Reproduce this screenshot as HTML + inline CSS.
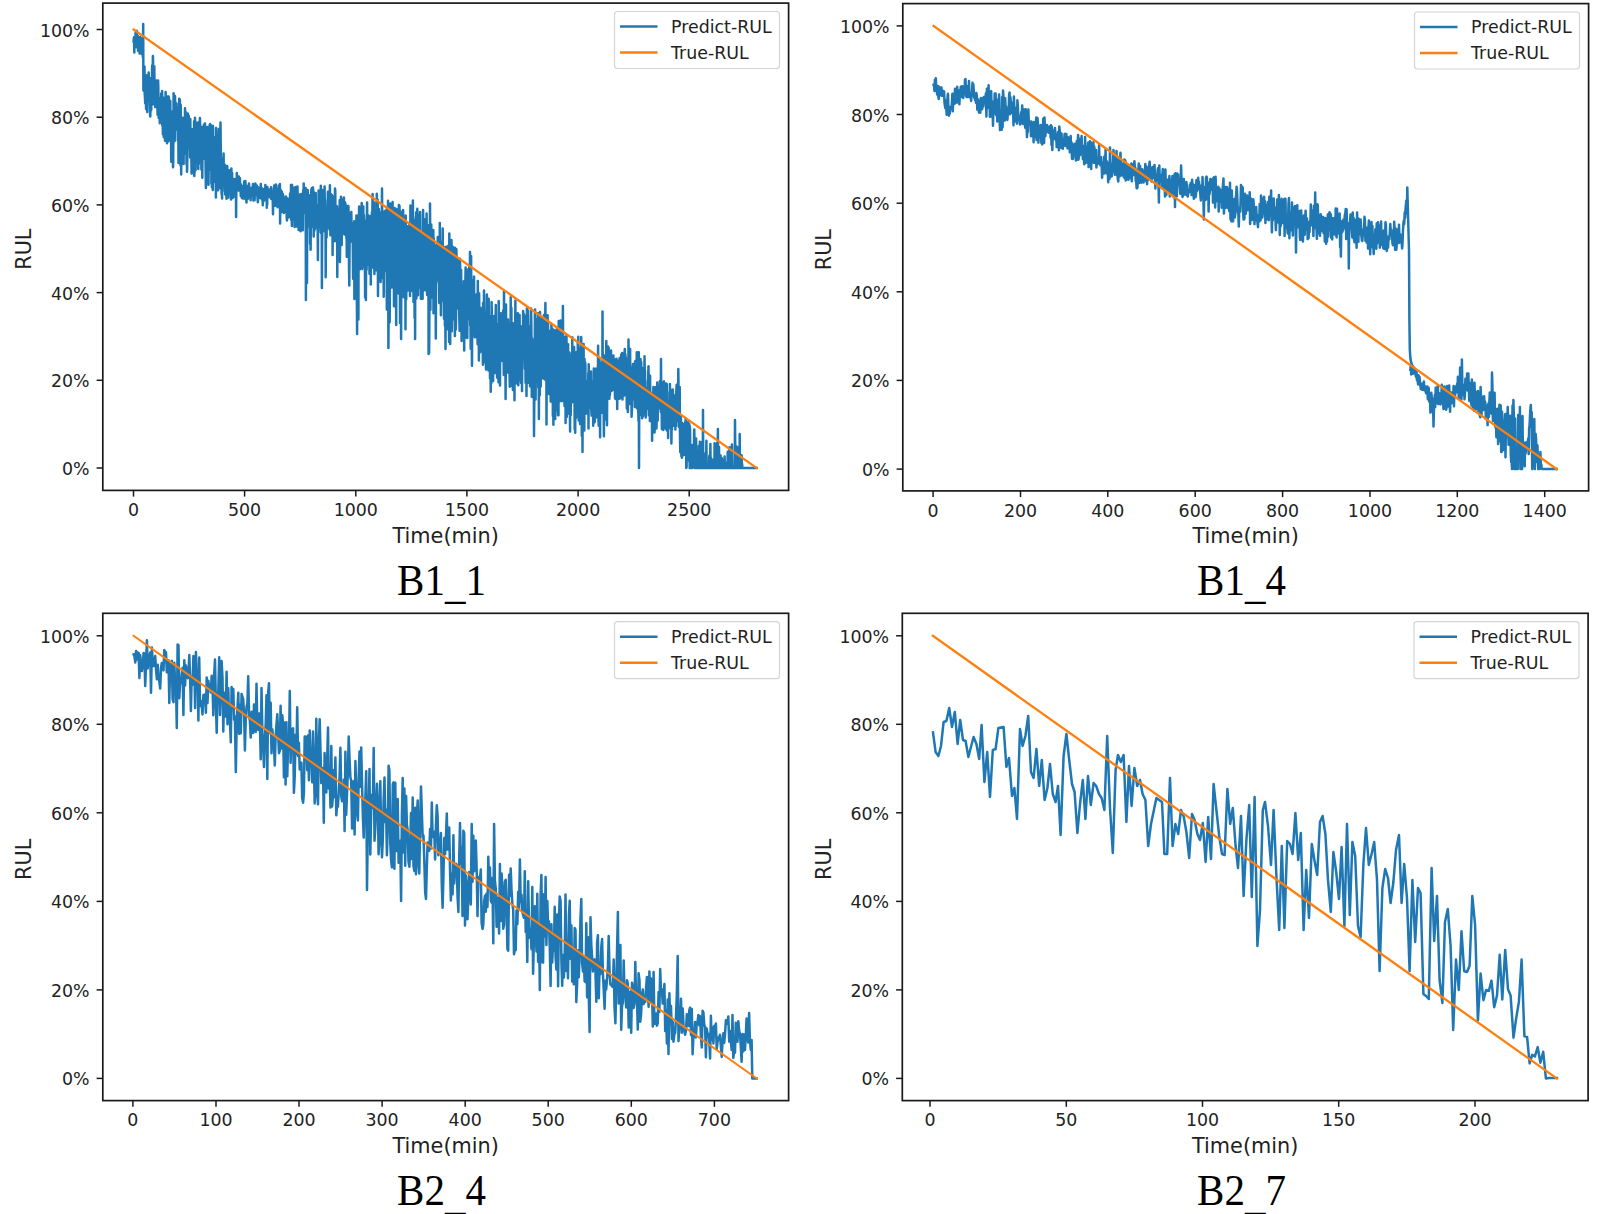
<!DOCTYPE html>
<html><head><meta charset="utf-8"><title>RUL prediction</title>
<style>
html,body{margin:0;padding:0;background:#fff;}
body{width:1600px;height:1214px;overflow:hidden;}
svg{display:block}
.tk{font-family:"DejaVu Sans","Liberation Sans",sans-serif;font-size:17.4px;fill:#222}
.lb{font-family:"DejaVu Sans","Liberation Sans",sans-serif;font-size:20.8px;fill:#222}
.lg{font-family:"DejaVu Sans","Liberation Sans",sans-serif;font-size:17.4px;fill:#222}
.tt{font-family:"Liberation Serif","Times New Roman",serif;font-size:41px;fill:#000}
</style></head><body>
<svg width="1600" height="1214" viewBox="0 0 1600 1214">
<rect width="1600" height="1214" fill="#fff"/>
<g transform="translate(0,0)">
<path d="M133.6 41.6L133.8 38.9L134 37.3L134.3 52.4L134.5 41.2L134.7 38.7L134.9 36.9L135.2 43.9L135.4 44.8L135.6 32.6L135.8 34.1L136 37.5L136.3 47.1L136.5 46L136.7 30.7L136.9 32.2L137.2 47.6L137.4 35.9L137.6 41.3L137.8 35.9L138 50.7L138.3 39L138.5 47.7L138.7 50.8L138.9 47L139.2 42.3L139.4 47.9L139.6 53.4L139.8 40.2L140 36.9L140.3 40.1L140.5 37.7L140.7 40.2L140.9 38.6L141.2 42.6L141.4 42.4L141.6 44.5L141.8 54L142 41.2L142.3 53.2L142.5 39.9L142.7 38.4L142.9 57.2L143.2 24L143.4 90.4L143.6 66.7L143.8 85.1L144.1 84.4L144.3 89.6L144.5 66.6L144.7 93.9L144.9 96.3L145.2 103.3L145.4 95.5L145.6 94.1L145.8 90.5L146.1 109.1L146.3 75.2L146.5 87L146.7 96L146.9 85.8L147.2 112L147.4 76.7L147.6 89L147.8 76.4L148.1 76.4L148.3 81.7L148.5 75.9L148.7 72.5L148.9 83.8L149.2 100.3L149.4 99.5L149.6 102.1L149.8 98.4L150.1 115.6L150.3 116.6L150.5 102.9L150.7 79.7L150.9 77.9L151.2 110.2L151.4 99.7L151.6 105.5L151.8 100.2L152.1 66.6L152.3 65.3L152.5 71.5L152.7 74.8L152.9 56L153.2 67.7L153.4 79.7L153.6 72.8L153.8 104.3L154.1 102.5L154.3 66.2L154.5 84L154.7 88L154.9 98.1L155.2 107.1L155.4 103.4L155.6 93.6L155.8 101L156.1 89.6L156.3 84.3L156.5 80.6L156.7 102.9L156.9 92.3L157.2 92.4L157.4 107.8L157.6 114.7L157.8 96.8L158.1 80.5L158.3 86.5L158.5 104.6L158.7 118L158.9 100.1L159.2 116.4L159.4 116.9L159.6 107.3L159.8 123.2L160.1 114.7L160.3 98.1L160.5 119.1L160.7 119.8L160.9 108.9L161.2 93.5L161.4 117L161.6 108.2L161.8 114.4L162.1 91.1L162.3 125.4L162.5 108.1L162.7 121.2L162.9 134.3L163.2 97.4L163.4 113L163.6 99L163.8 137.3L164.1 118.3L164.3 109.2L164.5 116.3L164.7 115.8L165 140.7L165.2 127.8L165.4 123.6L165.6 92.1L165.8 105.1L166.1 132.6L166.3 127.2L166.5 110.5L166.7 133.2L167 143.2L167.2 107L167.4 110.4L167.6 102.8L167.8 96.4L168.1 141.5L168.3 135.1L168.5 131.4L168.7 96.5L169 99.6L169.2 122.6L169.4 114.7L169.6 127.5L169.8 108.3L170.1 140.6L170.3 101.1L170.5 136L170.7 129L171 127.5L171.2 161.7L171.4 117.2L171.6 148.4L171.8 117.5L172.1 115L172.3 111.5L172.5 143.9L172.7 133.9L173 167.3L173.2 164.4L173.4 131.3L173.6 93.3L173.8 108.3L174.1 125.3L174.3 133.4L174.5 126.3L174.7 140.9L175 95.9L175.2 128.7L175.4 117.7L175.6 102.6L175.8 112.8L176.1 129L176.3 121.9L176.5 103.5L176.7 120.6L177 129.8L177.2 121.5L177.4 129L177.6 127.4L177.8 140.5L178.1 107.4L178.3 127.7L178.5 163.1L178.7 123.1L179 161.4L179.2 98.7L179.4 110.1L179.6 101L179.8 99.6L180.1 105.4L180.3 138.1L180.5 165.4L180.7 105.1L181 134.4L181.2 174.4L181.4 132.9L181.6 126L181.8 143.5L182.1 131.5L182.3 152.6L182.5 145.4L182.7 125.9L183 117.8L183.2 143.3L183.4 144.4L183.6 163.9L183.8 132.9L184.1 144.6L184.3 153.6L184.5 127.9L184.7 152.6L185 108.3L185.2 153.4L185.4 150.5L185.6 111.7L185.9 119.9L186.1 132.3L186.3 120.4L186.5 164.3L186.7 142.1L187 171.7L187.2 168.2L187.4 139.5L187.6 133.1L187.9 113.6L188.1 117.4L188.3 117.6L188.5 147.7L188.7 115.7L189 140.9L189.2 144L189.4 126.1L189.6 134.4L189.9 144.4L190.1 157.5L190.3 119.1L190.5 134.7L190.7 130.2L191 132.8L191.2 147.6L191.4 158.4L191.6 173.6L191.9 163L192.1 129.2L192.3 136L192.5 142.1L192.7 168.1L193 138.9L193.2 158.4L193.4 172.2L193.6 172.2L193.9 153.5L194.1 121.2L194.3 175.9L194.5 171.7L194.7 154.3L195 117.8L195.2 129.3L195.4 130.9L195.6 170.2L195.9 149.6L196.1 122.4L196.3 135.5L196.5 162.8L196.7 141L197 158L197.2 155L197.4 145.1L197.6 145.8L197.9 146.2L198.1 140.6L198.3 169L198.5 122.2L198.7 164.2L199 150.3L199.2 127.8L199.4 147.6L199.6 160.7L199.9 118.1L200.1 123.3L200.3 150.6L200.5 149.1L200.7 154.7L201 141.9L201.2 149.1L201.4 169.6L201.6 127L201.9 154.5L202.1 163.1L202.3 177.8L202.5 144.6L202.7 142.8L203 144.8L203.2 159.1L203.4 133.1L203.6 127.6L203.9 124.6L204.1 155.4L204.3 144.6L204.5 139.2L204.7 131.9L205 123.4L205.2 155.4L205.4 130.1L205.6 165.6L205.9 188L206.1 174.4L206.3 160.5L206.5 170.9L206.8 146.9L207 135.4L207.2 127L207.4 134.7L207.6 143.1L207.9 131.3L208.1 130.7L208.3 151L208.5 184.7L208.8 147.4L209 159.2L209.2 127.9L209.4 169.4L209.6 125.1L209.9 166.1L210.1 124.1L210.3 141.7L210.5 136.2L210.8 162.2L211 152.4L211.2 125.2L211.4 183.8L211.6 158.4L211.9 187.3L212.1 164.8L212.3 130.9L212.5 146.6L212.8 190L213 125.9L213.2 147.4L213.4 172.4L213.6 182.2L213.9 178L214.1 181.2L214.3 180.6L214.5 155.3L214.8 159.6L215 159.4L215.2 154.2L215.4 137.1L215.6 152.2L215.9 197.4L216.1 128.1L216.3 144.8L216.5 172.9L216.8 168.4L217 177.7L217.2 157.9L217.4 143.7L217.6 165.1L217.9 172.9L218.1 190.2L218.3 185.5L218.5 141.5L218.8 129L219 155.2L219.2 136.2L219.4 188.1L219.6 152.7L219.9 153.7L220.1 141.2L220.3 136.9L220.5 122.6L220.8 152.8L221 177.2L221.2 160.8L221.4 177.1L221.6 194.5L221.9 158.6L222.1 198.4L222.3 176.9L222.5 191.5L222.8 180.7L223 170.2L223.2 158.1L223.4 177L223.6 153.4L223.9 185L224.1 175.4L224.3 184.4L224.5 168.1L224.8 165L225 164.8L225.2 194.6L225.4 177.1L225.6 178.1L225.9 166L226.1 181.8L226.3 177.5L226.5 198.7L226.8 179.8L227 183L227.2 166.1L227.4 170L227.7 189.9L227.9 180.5L228.1 187.9L228.3 197.6L228.5 190.7L228.8 191.7L229 171.9L229.2 170.3L229.4 173L229.7 178.9L229.9 189.7L230.1 175.1L230.3 176.8L230.5 189.3L230.8 179.9L231 199.4L231.2 190.7L231.4 168.4L231.7 186.5L231.9 180.8L232.1 173.1L232.3 192.3L232.5 195.7L232.8 198.1L233 179.7L233.2 184L233.4 186.6L233.7 184.8L233.9 195.1L234.1 179.1L234.3 188.2L234.5 196.6L234.8 192.3L235 188.9L235.2 184.4L235.4 195.5L235.7 178.9L235.9 181.9L236.1 217L236.3 188.8L236.5 190.9L236.8 173L237 178.3L237.2 181L237.4 183.6L237.7 186.2L237.9 188.2L238.1 190.5L238.3 190.1L238.5 185.6L238.8 176.5L239 182.4L239.2 186.6L239.4 190.6L239.7 185.7L239.9 178.1L240.1 188.6L240.3 189.3L240.5 184L240.8 196.1L241 184.6L241.2 187.9L241.4 195.8L241.7 191L241.9 198L242.1 187.7L242.3 186.2L242.5 193L242.8 191.2L243 198.5L243.2 192.7L243.4 189.5L243.7 193.1L243.9 194.6L244.1 181.6L244.3 188.8L244.5 187.5L244.8 198.6L245 186.5L245.2 197.7L245.4 181.1L245.7 189.7L245.9 197.7L246.1 188.4L246.3 198.3L246.5 202.5L246.8 190.5L247 191.5L247.2 189.6L247.4 186L247.7 195.1L247.9 198.8L248.1 197L248.3 192.6L248.6 197.3L248.8 189.1L249 183.4L249.2 187.4L249.4 187.8L249.7 194.8L249.9 189L250.1 193.7L250.3 194.2L250.6 200.3L250.8 188.7L251 188.5L251.2 195.6L251.4 195.6L251.7 187.5L251.9 189.5L252.1 190.6L252.3 192.1L252.6 187.6L252.8 187.1L253 184L253.2 188.9L253.4 200.4L253.7 185.2L253.9 197.7L254.1 187L254.3 192.8L254.6 200.2L254.8 190.6L255 193.5L255.2 191.3L255.4 183.6L255.7 193.9L255.9 189.9L256.1 187.8L256.3 194.9L256.6 185.2L256.8 185.9L257 194.8L257.2 190.6L257.4 195.6L257.7 200.3L257.9 202.3L258.1 187.3L258.3 192.2L258.6 197L258.8 189.8L259 188.8L259.2 194.9L259.4 198.1L259.7 188.2L259.9 190.1L260.1 192.4L260.3 197.2L260.6 187.8L260.8 183.9L261 190.5L261.2 193.4L261.4 195.9L261.7 199.4L261.9 188.3L262.1 198.9L262.3 188.9L262.6 195.7L262.8 205.3L263 196.9L263.2 195.5L263.4 194.4L263.7 201L263.9 188.9L264.1 193.5L264.3 200.3L264.6 189L264.8 190.3L265 187.7L265.2 186.5L265.4 184.9L265.7 196L265.9 196.8L266.1 197.9L266.3 193.5L266.6 191L266.8 207.8L267 192.7L267.2 205L267.4 187.1L267.7 194.2L267.9 196.2L268.1 191.5L268.3 191.5L268.6 196.9L268.8 196.9L269 192.4L269.2 193.1L269.5 189.4L269.7 197L269.9 192.4L270.1 189.3L270.3 191.2L270.6 197.7L270.8 195.5L271 187.3L271.2 198.9L271.5 198.1L271.7 198.3L271.9 193.2L272.1 191.6L272.3 198.6L272.6 192.3L272.8 201.7L273 214.3L273.2 198.2L273.5 200.3L273.7 188.4L273.9 199.6L274.1 185.5L274.3 196.5L274.6 204.2L274.8 190.9L275 205.1L275.2 205.8L275.5 188.3L275.7 199.9L275.9 184.6L276.1 196.1L276.3 190.2L276.6 200.8L276.8 192.9L277 203.4L277.2 189.4L277.5 207.2L277.7 196L277.9 200.8L278.1 188.5L278.3 192L278.6 205.9L278.8 185.5L279 193.6L279.2 193.8L279.5 188.6L279.7 198.8L279.9 183.9L280.1 223.6L280.3 206.2L280.6 189.8L280.8 205L281 204.5L281.2 201.7L281.5 202.9L281.7 199.4L281.9 191.8L282.1 194.4L282.3 212.1L282.6 202.8L282.8 193.9L283 204.3L283.2 195.6L283.5 206L283.7 201.7L283.9 213L284.1 204.2L284.3 212.3L284.6 200.5L284.8 209.5L285 199.2L285.2 209.2L285.5 204.2L285.7 200L285.9 196.4L286.1 198.4L286.3 208.2L286.6 210.6L286.8 218.9L287 220.6L287.2 200.2L287.5 198.5L287.7 213.3L287.9 206.6L288.1 202.9L288.3 204.9L288.6 217.4L288.8 209.7L289 209.7L289.2 216.8L289.5 198.4L289.7 211L289.9 212.8L290.1 193.4L290.4 199.5L290.6 213.7L290.8 210.2L291 185L291.2 219.9L291.5 185.1L291.7 201.4L291.9 226.1L292.1 185.1L292.4 200.3L292.6 206.3L292.8 201.7L293 189.4L293.2 196.8L293.5 219.3L293.7 207.8L293.9 196.1L294.1 214.8L294.4 187.7L294.6 227.1L294.8 205.1L295 199.4L295.2 213.5L295.5 195L295.7 187L295.9 225.6L296.1 221.3L296.4 192.9L296.6 218.6L296.8 226.5L297 215.3L297.2 215.5L297.5 186.4L297.7 205L297.9 225.2L298.1 226.3L298.4 204.5L298.6 230.1L298.8 194.4L299 222.7L299.2 226.4L299.5 200.8L299.7 217.3L299.9 214.1L300.1 207L300.4 194.2L300.6 231.2L300.8 219.7L301 228.2L301.2 228L301.5 201.7L301.7 215.3L301.9 208.6L302.1 193.7L302.4 215.7L302.6 198.6L302.8 230.3L303 211.8L303.2 190.2L303.5 198L303.7 183.6L303.9 191L304.1 195.1L304.4 195.9L304.6 188.6L304.8 211.8L305 194.2L305.2 213.2L305.5 207.6L305.7 187.9L305.9 300L306.1 227.3L306.4 193.7L306.6 193.5L306.8 193.9L307 283L307.2 202.2L307.5 222.7L307.7 190.1L307.9 204.9L308.1 204.1L308.4 215.3L308.6 223.3L308.8 218.3L309 220.2L309.2 195.2L309.5 200.6L309.7 227.7L309.9 218.9L310.1 244.1L310.4 216.9L310.6 249.8L310.8 226.7L311 211.8L311.3 189.5L311.5 207.5L311.7 194.8L311.9 188.1L312.1 222.1L312.4 188.6L312.6 226.7L312.8 198.6L313 187.4L313.3 194.2L313.5 191.3L313.7 236.4L313.9 205.6L314.1 231.7L314.4 222.9L314.6 194.3L314.8 205.7L315 229.2L315.3 219.2L315.5 204.2L315.7 193L315.9 221.5L316.1 227.1L316.4 204.7L316.6 221.3L316.8 208L317 217.9L317.3 208.7L317.5 214.5L317.7 229.3L317.9 259.9L318.1 219.5L318.4 231.9L318.6 190.5L318.8 206.9L319 226.8L319.3 224.9L319.5 210.3L319.7 209.4L319.9 203.2L320.1 210.2L320.4 216.7L320.6 195.3L320.8 185.8L321 233.1L321.3 227.9L321.5 204.2L321.7 210.3L321.9 288L322.1 240.3L322.4 226.1L322.6 199.3L322.8 190L323 200.7L323.3 210.5L323.5 222.2L323.7 218L323.9 215.1L324.1 231.1L324.4 228.4L324.6 186.4L324.8 208.4L325 200L325.3 217.9L325.5 212.2L325.7 277.2L325.9 237.5L326.1 219L326.4 221.9L326.6 237.6L326.8 216.3L327 223.6L327.3 214.3L327.5 217.1L327.7 203.1L327.9 191.7L328.1 200.7L328.4 217.6L328.6 214.6L328.8 227.6L329 211.8L329.3 221.3L329.5 229.4L329.7 196.6L329.9 185.2L330.1 207L330.4 235.2L330.6 221.5L330.8 194.1L331 225.2L331.3 208.6L331.5 202L331.7 199.9L331.9 222.2L332.2 195.3L332.4 197.8L332.6 255.1L332.8 211.8L333 215.1L333.3 242.1L333.5 205.1L333.7 213.3L333.9 223.8L334.2 197.3L334.4 205.2L334.6 235.5L334.8 219.1L335 188.4L335.3 191.2L335.5 240.9L335.7 225.1L335.9 205.9L336.2 219L336.4 230.5L336.6 218.4L336.8 223L337 206.2L337.3 277.1L337.5 212L337.7 231.4L337.9 211.5L338.2 209.2L338.4 236.3L338.6 221.8L338.8 239L339 225.8L339.3 233.9L339.5 237.4L339.7 200.2L339.9 262L340.2 237.1L340.4 209.1L340.6 233.1L340.8 207.2L341 196.7L341.3 228.3L341.5 226.2L341.7 244.9L341.9 201.5L342.2 231.9L342.4 233.6L342.6 221.2L342.8 200.6L343 199.3L343.3 226.6L343.5 210.7L343.7 218.8L343.9 197.4L344.2 216.2L344.4 234.6L344.6 222.2L344.8 227.3L345 202.3L345.3 226.6L345.5 203.9L345.7 220.2L345.9 233.2L346.2 216.2L346.4 238.2L346.6 226.1L346.8 256.7L347 235.5L347.3 232.8L347.5 206.1L347.7 235.5L347.9 248.5L348.2 235.8L348.4 206L348.6 215.3L348.8 223.1L349 266.9L349.3 285.5L349.5 253.3L349.7 228.6L349.9 234.1L350.2 222.2L350.4 231.9L350.6 241.5L350.8 212.7L351 223L351.3 212L351.5 223.6L351.7 223.8L351.9 223.1L352.2 227.4L352.4 223.1L352.6 230.2L352.8 244.6L353.1 278.8L353.3 230.2L353.5 260.6L353.7 254.4L353.9 238.7L354.2 221.3L354.4 299.1L354.6 252.2L354.8 221.5L355.1 261.6L355.3 238.6L355.5 223.6L355.7 270.7L355.9 223.8L356.2 283.5L356.4 215.4L356.6 261.9L356.8 286.8L357.1 334L357.3 219.3L357.5 272.3L357.7 215.8L357.9 286.6L358.2 278.2L358.4 319.4L358.6 236L358.8 252.1L359.1 206.5L359.3 243.9L359.5 265.9L359.7 221.6L359.9 269.2L360.2 240.9L360.4 260.2L360.6 259.9L360.8 215.9L361.1 254.7L361.3 247.4L361.5 209.5L361.7 203L361.9 214.7L362.2 268.9L362.4 208.1L362.6 218.9L362.8 263.6L363.1 227.8L363.3 206.5L363.5 266.8L363.7 245.3L363.9 215.3L364.2 224.2L364.4 262.8L364.6 224.7L364.8 243L365.1 297.6L365.3 264.7L365.5 225.3L365.7 220.9L365.9 300L366.2 238.3L366.4 258L366.6 269.8L366.8 221.8L367.1 202.5L367.3 240.9L367.5 217.5L367.7 253.7L367.9 245.8L368.2 236.8L368.4 264.7L368.6 215.5L368.8 224.8L369.1 229.7L369.3 254.3L369.5 273.7L369.7 258.3L369.9 257.4L370.2 228L370.4 245.8L370.6 227.7L370.8 284.6L371.1 215.7L371.3 232.3L371.5 241.6L371.7 257.8L371.9 212.4L372.2 227.4L372.4 209.6L372.6 193.9L372.8 267.6L373.1 248.6L373.3 226.7L373.5 205L373.7 252L374 216.3L374.2 202.6L374.4 273.9L374.6 220.2L374.8 223.8L375.1 253L375.3 213.2L375.5 236.2L375.7 240.7L376 259.2L376.2 212.3L376.4 270.2L376.6 246.8L376.8 193.7L377.1 243.2L377.3 219.1L377.5 219L377.7 199.8L378 296L378.2 234.3L378.4 265.5L378.6 239.2L378.8 208.9L379.1 270.2L379.3 222.5L379.5 245.5L379.7 265.7L380 279L380.2 212.6L380.4 233.1L380.6 281.9L380.8 270.1L381.1 255.4L381.3 267.1L381.5 261.6L381.7 227.3L382 188.4L382.2 216L382.4 225L382.6 254.2L382.8 278L383.1 265.3L383.3 248.5L383.5 228L383.7 296.8L384 249.2L384.2 211.9L384.4 239.2L384.6 257.9L384.8 210.9L385.1 249.4L385.3 271.1L385.5 234L385.7 240.5L386 240.8L386.2 210.6L386.4 226.7L386.6 209.4L386.8 309.5L387.1 215.8L387.3 273.3L387.5 238.2L387.7 269.7L388 200.8L388.2 241.4L388.4 348L388.6 317.7L388.8 221.8L389.1 238.8L389.3 245.8L389.5 231L389.7 322.2L390 259.6L390.2 203.4L390.4 220.8L390.6 226.5L390.8 252.1L391.1 211.6L391.3 287.6L391.5 246.2L391.7 262.3L392 215.3L392.2 241.9L392.4 211.6L392.6 201.9L392.8 264.4L393.1 234.5L393.3 240.1L393.5 287.9L393.7 220.1L394 306.3L394.2 239.4L394.4 274.4L394.6 208L394.9 255.9L395.1 256.5L395.3 248.4L395.5 238.8L395.7 275.3L396 263.5L396.2 325.1L396.4 209L396.6 259.4L396.9 254.6L397.1 231.7L397.3 233.9L397.5 286.5L397.7 235.8L398 263.9L398.2 264.7L398.4 220.5L398.6 293.4L398.9 204.9L399.1 233L399.3 287.7L399.5 205.8L399.7 244.4L400 322.9L400.2 265.5L400.4 240.9L400.6 243.2L400.9 265.1L401.1 339L401.3 263.1L401.5 211.7L401.7 228L402 297.2L402.2 241.9L402.4 245L402.6 220.3L402.9 289.4L403.1 210.1L403.3 227.5L403.5 261.1L403.7 244.7L404 277.3L404.2 261.4L404.4 297.4L404.6 238.9L404.9 242.3L405.1 257L405.3 225L405.5 329.2L405.7 215.4L406 288.2L406.2 299.3L406.4 284.3L406.6 255.5L406.9 226L407.1 263L407.3 268.9L407.5 240.4L407.7 290.5L408 238.6L408.2 271.8L408.4 234.8L408.6 264.9L408.9 237L409.1 243.5L409.3 226.4L409.5 223.9L409.7 244.3L410 296.1L410.2 259.8L410.4 205.6L410.6 224.6L410.9 263.1L411.1 291L411.3 217.3L411.5 215.4L411.7 222.3L412 213L412.2 260.3L412.4 281.9L412.6 217.9L412.9 200.5L413.1 255.9L413.3 216.8L413.5 301.9L413.7 280.4L414 282.6L414.2 243.6L414.4 260.5L414.6 318L414.9 220.5L415.1 339L415.3 249.3L415.5 299.4L415.8 276.8L416 242.1L416.2 212.3L416.4 298.2L416.6 240.9L416.9 236.9L417.1 244L417.3 208.7L417.5 262.1L417.8 226.2L418 295.2L418.2 265.4L418.4 235L418.6 216.8L418.9 215L419.1 227.2L419.3 228.2L419.5 261.2L419.8 247.4L420 212L420.2 270.1L420.4 288.2L420.6 254.1L420.9 298.8L421.1 270.3L421.3 232.6L421.5 238.9L421.8 254.3L422 274.6L422.2 260.9L422.4 291.9L422.6 298.8L422.9 215.8L423.1 210L423.3 250.7L423.5 272.3L423.8 289.9L424 279.9L424.2 278.9L424.4 219.2L424.6 269.7L424.9 230.3L425.1 271.5L425.3 290.3L425.5 229.5L425.8 246.3L426 255.7L426.2 226.4L426.4 236.2L426.6 213.4L426.9 247.5L427.1 295L427.3 229.7L427.5 231.9L427.8 224.9L428 229L428.2 285.9L428.4 234.7L428.6 354L428.9 310.6L429.1 353L429.3 330.7L429.5 263.8L429.8 307.5L430 203.6L430.2 235L430.4 309.7L430.6 259L430.9 283.4L431.1 242.1L431.3 224.6L431.5 297.6L431.8 278.8L432 266.8L432.2 268.9L432.4 241.7L432.6 277.7L432.9 267.1L433.1 246.7L433.3 230L433.5 313.3L433.8 238.4L434 290.4L434.2 268.7L434.4 271.4L434.6 288.3L434.9 248L435.1 273.8L435.3 278.1L435.5 245.4L435.8 338.4L436 299.4L436.2 269.6L436.4 282.7L436.7 261.3L436.9 243L437.1 280.2L437.3 257.8L437.5 245.7L437.8 237L438 241.5L438.2 275.3L438.4 278.7L438.7 274.5L438.9 240.7L439.1 266.9L439.3 302.9L439.5 299.1L439.8 223.1L440 300.7L440.2 261.6L440.4 241.8L440.7 257.4L440.9 315.3L441.1 293.5L441.3 293.1L441.5 272.8L441.8 280.8L442 257L442.2 246.8L442.4 265.8L442.7 228.6L442.9 294.8L443.1 280.1L443.3 267.1L443.5 301.5L443.8 277L444 318.8L444.2 306.6L444.4 291.5L444.7 257.2L444.9 325.8L445.1 247.1L445.3 305.8L445.5 349L445.8 278.4L446 302.7L446.2 273.8L446.4 291.3L446.7 271.7L446.9 322.2L447.1 246.6L447.3 326.7L447.5 298L447.8 329.2L448 305L448.2 252.1L448.4 278.4L448.7 245.4L448.9 272.1L449.1 342L449.3 233.4L449.5 251.6L449.8 249.6L450 259.4L450.2 344L450.4 251.3L450.7 255.1L450.9 311.6L451.1 315.3L451.3 330.3L451.5 240L451.8 331.2L452 298.3L452.2 315.6L452.4 307.6L452.7 310.2L452.9 247L453.1 279.6L453.3 274.7L453.5 265.3L453.8 286L454 252.3L454.2 319.8L454.4 291.3L454.7 299.6L454.9 335.9L455.1 247.8L455.3 302L455.6 255.5L455.8 329.5L456 319.7L456.2 308.2L456.4 249.3L456.7 266.2L456.9 288.8L457.1 303.1L457.3 304.4L457.6 258.7L457.8 273.1L458 300.5L458.2 265.9L458.4 284.3L458.7 309.1L458.9 302.6L459.1 298.5L459.3 317.5L459.6 330.8L459.8 283.8L460 258.8L460.2 270.9L460.4 278L460.7 293.3L460.9 284.7L461.1 270L461.3 287.3L461.6 341.1L461.8 313.7L462 291.7L462.2 326.4L462.4 303.4L462.7 305.4L462.9 333.4L463.1 309.5L463.3 303.7L463.6 322.9L463.8 281.2L464 301.2L464.2 350.6L464.4 286.2L464.7 293.7L464.9 288.7L465.1 300.7L465.3 287L465.6 267.4L465.8 317.4L466 300.8L466.2 337.5L466.4 273L466.7 303.4L466.9 291.3L467.1 283.4L467.3 337.9L467.6 279.2L467.8 279.8L468 269.6L468.2 301.3L468.4 297.2L468.7 318.9L468.9 271.9L469.1 315.7L469.3 266.8L469.6 289.6L469.8 286.7L470 252L470.2 325.6L470.4 304.7L470.7 348.7L470.9 284.3L471.1 256L471.3 293.1L471.6 287.3L471.8 344.9L472 365.8L472.2 312.3L472.4 319.1L472.7 318.1L472.9 319.4L473.1 320.6L473.3 280L473.6 329.1L473.8 290.8L474 276.4L474.2 307.8L474.4 320.2L474.7 337.2L474.9 324.1L475.1 322L475.3 294.9L475.6 325.6L475.8 320.7L476 323.3L476.2 294.5L476.5 309.6L476.7 337.6L476.9 335.9L477.1 319.8L477.3 309.5L477.6 344.2L477.8 280.9L478 305.7L478.2 310.9L478.5 335.7L478.7 311.2L478.9 360.6L479.1 293.3L479.3 307.9L479.6 330.6L479.8 348.7L480 307.8L480.2 352.3L480.5 313.9L480.7 331L480.9 346.9L481.1 340L481.3 328.4L481.6 349.1L481.8 322.8L482 317L482.2 350.1L482.5 307.5L482.7 332.9L482.9 364.8L483.1 303.1L483.3 352L483.6 336.1L483.8 322.9L484 290.5L484.2 312L484.5 358.3L484.7 317.7L484.9 313.5L485.1 362.6L485.3 351.6L485.6 335.7L485.8 356.5L486 369.6L486.2 360.2L486.5 331.6L486.7 325.5L486.9 294.6L487.1 321.3L487.3 344.3L487.6 351.7L487.8 352.1L488 318.2L488.2 309.8L488.5 370.5L488.7 298.7L488.9 359.7L489.1 335.4L489.3 332.8L489.6 360.2L489.8 338.2L490 378.2L490.2 344.7L490.5 316.1L490.7 391.8L490.9 341.6L491.1 319.1L491.3 383.1L491.6 301.9L491.8 313L492 357.3L492.2 332.3L492.5 346.8L492.7 339.1L492.9 321.2L493.1 381.1L493.3 359.9L493.6 321.6L493.8 345.7L494 367.3L494.2 315.9L494.5 346.7L494.7 332.9L494.9 352.4L495.1 373L495.3 321.2L495.6 330.8L495.8 305L496 348.1L496.2 360.4L496.5 339.8L496.7 324L496.9 347.9L497.1 377.5L497.4 340.6L497.6 356.8L497.8 345.3L498 378.4L498.2 334L498.5 382.3L498.7 300.9L498.9 355.6L499.1 329.6L499.4 328.6L499.6 317.5L499.8 330.6L500 385.6L500.2 323.2L500.5 336.1L500.7 347.4L500.9 313.3L501.1 351.7L501.4 361L501.6 336.1L501.8 351.9L502 355.9L502.2 345.3L502.5 343.1L502.7 337.2L502.9 325.3L503.1 310.5L503.4 342.4L503.6 348.7L503.8 375.1L504 291L504.2 321L504.5 311.3L504.7 346.9L504.9 362.7L505.1 311.9L505.4 355.2L505.6 399.1L505.8 365.8L506 304.4L506.2 345.6L506.5 331L506.7 355.8L506.9 352.6L507.1 349.7L507.4 328.4L507.6 372.5L507.8 363.1L508 319.6L508.2 369L508.5 324.1L508.7 347.8L508.9 341.9L509.1 342.1L509.4 371L509.6 374.8L509.8 386.8L510 339.6L510.2 386L510.5 364L510.7 297.3L510.9 357.6L511.1 335.7L511.4 307.7L511.6 385.7L511.8 382.8L512 359L512.2 371L512.5 351.8L512.7 338L512.9 389.9L513.1 323.2L513.4 373.3L513.6 383.7L513.8 354.8L514 351.1L514.2 363.5L514.5 400.2L514.7 325.3L514.9 337.1L515.1 331.4L515.4 300.6L515.6 379.9L515.8 333.5L516 356.1L516.2 372.8L516.5 381.7L516.7 318.4L516.9 383.6L517.1 378.5L517.4 369.5L517.6 319.2L517.8 313.2L518 370.2L518.3 385.2L518.5 339.3L518.7 340.1L518.9 380L519.1 345.8L519.4 342.9L519.6 314.9L519.8 377.3L520 370L520.3 371.3L520.5 326.1L520.7 337L520.9 379.6L521.1 382.9L521.4 346.6L521.6 339.8L521.8 331.4L522 391L522.3 343L522.5 330.1L522.7 327.7L522.9 346.2L523.1 310.9L523.4 318.8L523.6 333.5L523.8 336.7L524 314.2L524.3 332.6L524.5 343.2L524.7 357.9L524.9 368.8L525.1 315.7L525.4 363.1L525.6 382.8L525.8 347.9L526 335.6L526.3 359.6L526.5 395.9L526.7 365.4L526.9 308.4L527.1 373.3L527.4 339.4L527.6 361.3L527.8 382.8L528 310.4L528.3 330.3L528.5 325.3L528.7 347.1L528.9 356.1L529.1 374.9L529.4 358.3L529.6 346.2L529.8 369.8L530 386.3L530.3 384.6L530.5 348.4L530.7 331.8L530.9 360.9L531.1 308.4L531.4 330.5L531.6 374.8L531.8 396.7L532 337.9L532.3 370.7L532.5 357.9L532.7 372.7L532.9 363.2L533.1 339.8L533.4 382L533.6 397.9L533.8 370L534 436L534.3 398.8L534.5 358.9L534.7 388.7L534.9 316.9L535.1 309.6L535.4 364.5L535.6 399.4L535.8 371.7L536 346.9L536.3 371.9L536.5 379.3L536.7 373.6L536.9 359L537.1 321.8L537.4 318.9L537.6 340.6L537.8 354L538 313L538.3 387.4L538.5 379.5L538.7 340.5L538.9 419L539.2 340.8L539.4 367.6L539.6 367L539.8 395.2L540 312.1L540.3 339.7L540.5 332.8L540.7 386.5L540.9 371.8L541.2 371.1L541.4 343L541.6 350L541.8 340.5L542 375.2L542.3 329.9L542.5 318.3L542.7 371.2L542.9 340L543.2 378.5L543.4 358.5L543.6 361.9L543.8 362.6L544 315.1L544.3 350.5L544.5 336.9L544.7 319.3L544.9 379.4L545.2 321.4L545.4 303L545.6 352.3L545.8 364.6L546 354.9L546.3 318.4L546.5 424.5L546.7 373.2L546.9 393.1L547.2 340.6L547.4 363.7L547.6 315.2L547.8 360L548 322.7L548.3 374L548.5 392L548.7 379.6L548.9 394.1L549.2 389.7L549.4 357.3L549.6 346L549.8 394.2L550 361.6L550.3 330.8L550.5 370.7L550.7 401.4L550.9 390.1L551.2 351.5L551.4 323.8L551.6 354.9L551.8 373.3L552 373.5L552.3 328.6L552.5 398.6L552.7 384.6L552.9 416L553.2 339.1L553.4 424.8L553.6 330L553.8 370.5L554 375L554.3 355.3L554.5 388.1L554.7 330.4L554.9 347.8L555.2 419.1L555.4 354.4L555.6 395.9L555.8 410.3L556 369L556.3 348.6L556.5 394.8L556.7 366.7L556.9 327.8L557.2 335L557.4 363.1L557.6 348.4L557.8 405.3L558 415.2L558.3 400.3L558.5 415.2L558.7 321L558.9 330.3L559.2 389L559.4 389.6L559.6 385L559.8 382.3L560.1 323.2L560.3 374L560.5 320.4L560.7 400.9L560.9 349.3L561.2 357.7L561.4 365.2L561.6 327.9L561.8 360.9L562.1 322.2L562.3 400.9L562.5 349.1L562.7 328.5L562.9 306L563.2 358.5L563.4 335.9L563.6 365.8L563.8 363.1L564.1 377.9L564.3 337L564.5 406.1L564.7 381.7L564.9 355L565.2 390.1L565.4 340.7L565.6 423L565.8 364.8L566.1 376.6L566.3 369.8L566.5 335L566.7 416.9L566.9 408.7L567.2 373.1L567.4 385.6L567.6 386.3L567.8 413.6L568.1 344.2L568.3 406.5L568.5 386.4L568.7 358.4L568.9 361L569.2 352.2L569.4 414.1L569.6 353L569.8 406.2L570.1 431.5L570.3 358.7L570.5 406.7L570.7 415.3L570.9 388.5L571.2 371L571.4 400.4L571.6 355.6L571.8 392.6L572.1 383.8L572.3 337.3L572.5 402.2L572.7 399.6L572.9 350.7L573.2 363.6L573.4 381.9L573.6 358.4L573.8 381L574.1 347L574.3 360.7L574.5 374.4L574.7 429.4L574.9 364L575.2 432.8L575.4 395.7L575.6 392.5L575.8 373.2L576.1 417.7L576.3 352.3L576.5 409.7L576.7 408.1L576.9 404.8L577.2 360.5L577.4 407.2L577.6 392L577.8 342.1L578.1 367.7L578.3 336.8L578.5 389.2L578.7 420.5L578.9 406L579.2 347.7L579.4 347.8L579.6 372.5L579.8 373.8L580.1 424L580.3 369.1L580.5 412L580.7 363.4L581 409.4L581.2 337.1L581.4 363.4L581.6 380.7L581.8 435.7L582.1 394.8L582.3 355.4L582.5 452L582.7 379.6L583 377.9L583.2 369.6L583.4 422.4L583.6 344.1L583.8 394.9L584.1 408.1L584.3 430.5L584.5 359.1L584.7 414.5L585 410.3L585.2 362.5L585.4 366L585.6 403.6L585.8 396.1L586.1 389.2L586.3 385.3L586.5 413.5L586.7 381.1L587 383L587.2 391.9L587.4 382.2L587.6 411.3L587.8 383.6L588.1 390.3L588.3 373L588.5 428.5L588.7 364.2L589 392.3L589.2 377.2L589.4 377.4L589.6 394.4L589.8 406.6L590.1 386.3L590.3 387.1L590.5 394.7L590.7 407.9L591 371.6L591.2 402.7L591.4 412.2L591.6 415.6L591.8 398.5L592.1 408.5L592.3 398.6L592.5 383.1L592.7 405.4L593 381.6L593.2 425.8L593.4 419.3L593.6 400.7L593.8 368.5L594.1 385.6L594.3 410.1L594.5 390.1L594.7 422.3L595 383.6L595.2 403.5L595.4 368.7L595.6 399.4L595.8 411.3L596.1 417.4L596.3 380.7L596.5 389.9L596.7 382L597 390.6L597.2 377.2L597.4 370.7L597.6 367.5L597.8 403.2L598.1 345.7L598.3 385.1L598.5 420.3L598.7 425.6L599 365.3L599.2 401.3L599.4 359.8L599.6 361.6L599.8 400.6L600.1 437.2L600.3 362.9L600.5 373L600.7 386.9L601 365.5L601.2 380.3L601.4 398.8L601.6 400.1L601.9 368.1L602.1 380.7L602.3 412.7L602.5 311.5L602.7 353.2L603 392.6L603.2 393.7L603.4 403.7L603.6 398.3L603.9 436.2L604.1 355.5L604.3 373.3L604.5 390.7L604.7 400.8L605 404.8L605.2 391.1L605.4 398.2L605.6 419.5L605.9 385L606.1 364.6L606.3 341.1L606.5 378.9L606.7 393.4L607 425.2L607.2 391.7L607.4 355.3L607.6 366.9L607.9 374.3L608.1 346.5L608.3 396.7L608.5 357.3L608.7 347.9L609 390.9L609.2 391.7L609.4 398.8L609.6 351.4L609.9 395.3L610.1 362.8L610.3 371.6L610.5 361L610.7 381.2L611 350.6L611.2 379.5L611.4 378.5L611.6 391L611.9 363.6L612.1 389.7L612.3 358.5L612.5 357.6L612.7 373.7L613 389.8L613.2 378.8L613.4 355.6L613.6 362.5L613.9 381.5L614.1 376.9L614.3 359.3L614.5 377.3L614.7 370.7L615 398.3L615.2 389L615.4 388.8L615.6 398.9L615.9 377L616.1 376.8L616.3 370.8L616.5 358.8L616.7 392.3L617 362.4L617.2 409.1L617.4 384.6L617.6 393.4L617.9 374.1L618.1 360.8L618.3 360.7L618.5 378.4L618.7 377.2L619 364.2L619.2 377L619.4 398.8L619.6 358L619.9 368.8L620.1 369.4L620.3 371.6L620.5 391L620.7 395.8L621 397.9L621.2 354.4L621.4 395L621.6 388.7L621.9 371.3L622.1 352.9L622.3 371L622.5 399.4L622.8 368.1L623 377.2L623.2 385.9L623.4 381.5L623.6 392.2L623.9 365.1L624.1 374.1L624.3 395.4L624.5 353.6L624.8 349.1L625 390.3L625.2 391.4L625.4 354.5L625.6 368.6L625.9 365.3L626.1 387.7L626.3 382.8L626.5 358.2L626.8 408.6L627 384.2L627.2 382.4L627.4 365.6L627.6 367.5L627.9 411.9L628.1 375.2L628.3 384.3L628.5 339.5L628.8 369.9L629 373L629.2 391.5L629.4 402.6L629.6 404.1L629.9 376.2L630.1 349L630.3 380.9L630.5 381.3L630.8 379.7L631 389.6L631.2 367.3L631.4 381.3L631.6 416.7L631.9 408.6L632.1 380.1L632.3 372.5L632.5 391.6L632.8 374.6L633 364L633.2 399.5L633.4 382.3L633.6 365.7L633.9 397.1L634.1 391.8L634.3 390.5L634.5 375.3L634.8 407L635 362.1L635.2 402L635.4 361L635.6 362L635.9 388.3L636.1 407.3L636.3 383.9L636.5 390.4L636.8 352.2L637 387.9L637.2 408.5L637.4 395.2L637.6 378.4L637.9 365.2L638.1 384L638.3 412.3L638.5 421L638.8 352.3L639 468L639.2 416.2L639.4 397.4L639.6 377.2L639.9 382.3L640.1 380.1L640.3 372.7L640.5 358.9L640.8 376L641 405.5L641.2 362.2L641.4 376.1L641.6 415.3L641.9 374.9L642.1 418.3L642.3 398.5L642.5 367.9L642.8 370.7L643 416.3L643.2 382.5L643.4 373.2L643.7 414.2L643.9 376.3L644.1 368.9L644.3 397.4L644.5 356.3L644.8 378.1L645 370.4L645.2 393.3L645.4 387.8L645.7 417.4L645.9 408L646.1 392.9L646.3 406.2L646.5 388.3L646.8 400L647 408.1L647.2 405.7L647.4 407.1L647.7 408.8L647.9 380.7L648.1 403.1L648.3 372.6L648.5 366.2L648.8 415.2L649 395.9L649.2 409.7L649.4 379.8L649.7 390.9L649.9 421L650.1 375.8L650.3 419.2L650.5 396.6L650.8 394.5L651 411.5L651.2 417.1L651.4 410L651.7 398.5L651.9 406.8L652.1 440.8L652.3 421.2L652.5 408.3L652.8 392.5L653 397.1L653.2 412.6L653.4 386.9L653.7 392.8L653.9 390.3L654.1 402.1L654.3 410.2L654.5 432.6L654.8 427.9L655 416.1L655.2 411.4L655.4 387.3L655.7 405.8L655.9 409.5L656.1 390.9L656.3 419.2L656.5 428.4L656.8 415.2L657 410.7L657.2 382.6L657.4 400.7L657.7 420.5L657.9 386.3L658.1 386.4L658.3 394.5L658.5 388.1L658.8 406.8L659 389.5L659.2 407.8L659.4 396.4L659.7 399.5L659.9 381L660.1 407.7L660.3 409.2L660.5 386.7L660.8 411.9L661 359L661.2 389.6L661.4 386.5L661.7 412.7L661.9 429L662.1 397.6L662.3 410.3L662.5 429.5L662.8 382.9L663 395.4L663.2 409.8L663.4 430.1L663.7 381.5L663.9 381.4L664.1 423.2L664.3 427.7L664.6 393.3L664.8 406.4L665 423.2L665.2 401.6L665.4 402.2L665.7 409.6L665.9 423L666.1 383.5L666.3 429.4L666.6 400.5L666.8 384.1L667 410L667.2 391.9L667.4 430.9L667.7 415.2L667.9 400.9L668.1 438L668.3 409L668.6 411L668.8 428.4L669 418.4L669.2 413.8L669.4 418.8L669.7 425.5L669.9 383.9L670.1 404L670.3 389.1L670.6 397.1L670.8 411.3L671 414.7L671.2 401.4L671.4 443.4L671.7 421.8L671.9 429.8L672.1 393.7L672.3 403.4L672.6 409.3L672.8 389.4L673 396.4L673.2 414.1L673.4 409.4L673.7 400.9L673.9 425.7L674.1 407.3L674.3 399.9L674.6 410.1L674.8 413.8L675 397.3L675.2 395.2L675.4 429.6L675.7 397.4L675.9 425.9L676.1 404.9L676.3 391.2L676.6 385.1L676.8 407.4L677 421.1L677.2 420.3L677.4 398L677.7 383.6L677.9 394.5L678.1 409.1L678.3 369L678.6 391L678.8 426.8L679 410L679.2 399.5L679.4 392.3L679.7 387L679.9 425.3L680.1 442.3L680.3 452.3L680.6 433L680.8 415.3L681 421.7L681.2 435L681.4 456.2L681.7 438.5L681.9 457.7L682.1 435.9L682.3 423.1L682.6 438.2L682.8 423.9L683 428.8L683.2 455.2L683.4 437L683.7 452.8L683.9 447.5L684.1 440.5L684.3 454.7L684.6 445.5L684.8 440.6L685 440.2L685.2 422.1L685.5 444.2L685.7 418.6L685.9 440.3L686.1 430L686.3 468L686.6 467L686.8 443.7L687 460.8L687.2 443.1L687.5 434.5L687.7 423.9L687.9 460.6L688.1 422L688.3 442.4L688.6 452.6L688.8 457.3L689 444.8L689.2 423.7L689.5 425.4L689.7 468L689.9 426.8L690.1 431.7L690.3 463L690.6 468L690.8 468L691 451.8L691.2 468L691.5 468L691.7 466.3L691.9 468L692.1 468L692.3 444.9L692.6 468L692.8 462.1L693 456.4L693.2 457.7L693.5 449.9L693.7 451L693.9 457.5L694.1 431.2L694.3 429.6L694.6 452.7L694.8 447.7L695 468L695.2 454.8L695.5 439.4L695.7 442.5L695.9 453.1L696.1 438.5L696.3 468L696.6 450.4L696.8 461.6L697 468L697.2 468L697.5 468L697.7 461.1L697.9 468L698.1 453.6L698.3 468L698.6 468L698.8 445.8L699 468L699.2 468L699.5 468L699.7 468L699.9 441.8L700.1 444.8L700.3 468L700.6 468L700.8 467.8L701 468L701.2 467.6L701.5 450.6L701.7 442L701.9 455.6L702.1 468L702.3 468L702.6 442.4L702.8 468L703 410L703.2 468L703.5 453.2L703.7 468L703.9 468L704.1 468L704.3 468L704.6 466.9L704.8 468L705 468L705.2 468L705.5 468L705.7 468L705.9 453L706.1 468L706.4 440.7L706.6 468L706.8 468L707 468L707.2 468L707.5 468L707.7 468L707.9 468L708.1 468L708.4 468L708.6 468L708.8 468L709 468L709.2 457.3L709.5 455.4L709.7 468L709.9 468L710.1 468L710.4 444.1L710.6 468L710.8 461.7L711 458.1L711.2 468L711.5 468L711.7 468L711.9 468L712.1 459.4L712.4 466.2L712.6 468L712.8 468L713 468L713.2 468L713.5 468L713.7 468L713.9 468L714.1 468L714.4 468L714.6 443.3L714.8 468L715 468L715.2 468L715.5 468L715.7 468L715.9 468L716.1 462.6L716.4 468L716.6 460.1L716.8 468L717 443.1L717.2 468L717.5 445.1L717.7 446.9L717.9 429L718.1 468L718.4 468L718.6 468L718.8 468L719 446.8L719.2 468L719.5 468L719.7 464.4L719.9 468L720.1 455.3L720.4 468L720.6 455.5L720.8 468L721 468L721.2 468L721.5 468L721.7 458L721.9 468L722.1 468L722.4 468L722.6 459.7L722.8 468L723 468L723.2 468L723.5 468L723.7 468L723.9 468L724.1 468L724.4 468L724.6 456.4L724.8 468L725 468L725.2 468L725.5 467.5L725.7 468L725.9 468L726.1 468L726.4 468L726.6 468L726.8 468L727 462.5L727.3 468L727.5 468L727.7 451.8L727.9 468L728.1 468L728.4 468L728.6 466.6L728.8 468L729 468L729.3 468L729.5 447.2L729.7 468L729.9 468L730.1 468L730.4 468L730.6 468L730.8 458.1L731 465.3L731.3 468L731.5 461.2L731.7 468L731.9 444.5L732.1 468L732.4 466.5L732.6 468L732.8 468L733 468L733.3 468L733.5 468L733.7 468L733.9 468L734.1 468L734.4 468L734.6 468L734.8 458.1L735 420L735.3 456.2L735.5 468L735.7 466.2L735.9 468L736.1 468L736.4 468L736.6 446.6L736.8 468L737 468L737.3 468L737.5 468L737.7 451L737.9 468L738.1 468L738.4 447.2L738.6 468L738.8 458L739 468L739.3 468L739.5 468L739.7 434L739.9 468L740.1 468L740.4 468L740.6 468L740.8 468L741 455.1L741.3 468L741.5 468L741.7 455.6L741.9 468L742.1 463.8L742.4 468L742.6 468L742.8 468L743 468L743.3 468L743.5 468L743.7 468L743.9 468L744.1 468L744.4 468L744.6 468L744.8 468L745 468L745.3 468L745.5 468L745.7 468L745.9 468L746.1 468L746.4 468L746.6 468L746.8 468L747 468L747.3 468L747.5 468L747.7 468L747.9 468L748.2 468L748.4 468L748.6 468L748.8 468L749 468L749.3 468L749.5 468L749.7 468L749.9 468L750.2 468L750.4 468L750.6 468L750.8 468L751 468L751.3 468L751.5 468L751.7 468L751.9 468L752.2 468L752.4 468L752.6 468L752.8 468L753 468L753.3 468L753.5 468L753.7 468L753.9 468L754.2 468L754.4 468L754.6 468L754.8 468L755 468L755.3 468L755.5 468L755.7 468L755.9 468L756.2 468L756.4 468L756.6 468" fill="none" stroke="#1f77b4" stroke-width="2.5" stroke-linejoin="round" stroke-linecap="square"/>
<path d="M133.6 29.5 L756.6 468" fill="none" stroke="#ff7f0e" stroke-width="2.3" stroke-linecap="square"/>
<rect x="102.8" y="3.1" width="685.8" height="487.3" fill="none" stroke="#1a1a1a" stroke-width="1.7"/>
<path d="M133.5 490.4 v6.2" stroke="#1a1a1a" stroke-width="1.5"/>
<text x="133.5" y="516" text-anchor="middle" class="tk">0</text>
<path d="M244.6 490.4 v6.2" stroke="#1a1a1a" stroke-width="1.5"/>
<text x="244.6" y="516" text-anchor="middle" class="tk">500</text>
<path d="M355.8 490.4 v6.2" stroke="#1a1a1a" stroke-width="1.5"/>
<text x="355.8" y="516" text-anchor="middle" class="tk">1000</text>
<path d="M466.9 490.4 v6.2" stroke="#1a1a1a" stroke-width="1.5"/>
<text x="466.9" y="516" text-anchor="middle" class="tk">1500</text>
<path d="M578.1 490.4 v6.2" stroke="#1a1a1a" stroke-width="1.5"/>
<text x="578.1" y="516" text-anchor="middle" class="tk">2000</text>
<path d="M689.2 490.4 v6.2" stroke="#1a1a1a" stroke-width="1.5"/>
<text x="689.2" y="516" text-anchor="middle" class="tk">2500</text>
<path d="M102.8 468 h-6.2" stroke="#1a1a1a" stroke-width="1.5"/>
<text x="89.6" y="475" text-anchor="end" class="tk">0%</text>
<path d="M102.8 380.3 h-6.2" stroke="#1a1a1a" stroke-width="1.5"/>
<text x="89.6" y="387.3" text-anchor="end" class="tk">20%</text>
<path d="M102.8 292.6 h-6.2" stroke="#1a1a1a" stroke-width="1.5"/>
<text x="89.6" y="299.6" text-anchor="end" class="tk">40%</text>
<path d="M102.8 204.9 h-6.2" stroke="#1a1a1a" stroke-width="1.5"/>
<text x="89.6" y="211.9" text-anchor="end" class="tk">60%</text>
<path d="M102.8 117.2 h-6.2" stroke="#1a1a1a" stroke-width="1.5"/>
<text x="89.6" y="124.2" text-anchor="end" class="tk">80%</text>
<path d="M102.8 29.5 h-6.2" stroke="#1a1a1a" stroke-width="1.5"/>
<text x="89.6" y="36.5" text-anchor="end" class="tk">100%</text>
<text x="445.7" y="542.6" text-anchor="middle" class="lb">Time(min)</text>
<text transform="translate(31,249.2) rotate(-90)" text-anchor="middle" class="lb">RUL</text>
<rect x="614.5" y="11.5" width="165" height="57" rx="3" ry="3" fill="#fff" fill-opacity="0.8" stroke="#d4d4d4" stroke-width="1.2"/>
<path d="M620 26.5 h37.5" stroke="#1f77b4" stroke-width="2.5"/>
<path d="M620 52.5 h37.5" stroke="#ff7f0e" stroke-width="2.5"/>
<text x="671" y="32.6" class="lg">Predict-RUL</text>
<text x="671" y="58.6" class="lg">True-RUL</text>
<text transform="translate(441.5,594.9) scale(1,1.075)" text-anchor="middle" class="tt">B1<tspan dy="3.2">_</tspan><tspan dy="-3.2">1</tspan></text>
</g>
<g transform="translate(800,0.5)">
<path d="M133.6 84.2L134 84.2L134.5 90.6L134.9 79.2L135.3 90L135.8 77.7L136.2 86L136.7 86.3L137.1 93.9L137.5 88.4L138 85.6L138.4 96.7L138.8 98.5L139.3 86.5L139.7 94.5L140.1 88.9L140.6 93.2L141 94.7L141.5 87L141.9 95.5L142.3 90L142.8 91.3L143.2 95.4L143.6 90.5L144.1 91.1L144.5 102.3L145 105.8L145.4 107.7L145.8 100L146.3 107.9L146.7 114.2L147.1 112.3L147.6 95.5L148 93.3L148.4 108.7L148.9 115.2L149.3 106.2L149.8 113.2L150.2 107.9L150.6 107.6L151.1 108.1L151.5 107.4L151.9 102.2L152.4 93.2L152.8 110.7L153.2 98.5L153.7 99.6L154.1 93L154.6 103.3L155 88.3L155.4 95.4L155.9 102.2L156.3 100.1L156.7 99.5L157.2 86.2L157.6 99.6L158 92.4L158.5 102.5L158.9 90.1L159.4 103.8L159.8 93.9L160.2 95.7L160.7 86.6L161.1 86L161.5 86.1L162 96.4L162.4 85.7L162.9 88.2L163.3 97.4L163.7 92.7L164.2 87.2L164.6 91L165 79.3L165.5 78.6L165.9 92L166.3 96L166.8 96.5L167.2 88.2L167.7 93L168.1 85.3L168.5 96.6L169 80.5L169.4 93.3L169.8 92.1L170.3 96.5L170.7 94.2L171.1 100.4L171.6 94.7L172 91.6L172.5 82.3L172.9 90.3L173.3 83.7L173.8 90.8L174.2 97.1L174.6 97.3L175.1 99.6L175.5 93.1L175.9 102.3L176.4 92.6L176.8 94.9L177.3 109.1L177.7 98.4L178.1 99.3L178.6 109.4L179 112.1L179.4 111.7L179.9 100.6L180.3 112.2L180.8 97.4L181.2 99.3L181.6 98.4L182.1 108.8L182.5 103.1L182.9 97.8L183.4 106.1L183.8 96.6L184.2 101L184.7 102.6L185.1 100L185.6 95.5L186 92.8L186.4 116L186.9 88.3L187.3 107.8L187.7 96.1L188.2 96.9L188.6 84.8L189 103.9L189.5 97.9L189.9 116.2L190.4 97.6L190.8 91.7L191.2 90.6L191.7 116.1L192.1 111.8L192.5 101.1L193 125.2L193.4 108.9L193.8 102.4L194.3 112.4L194.7 93L195.2 107.8L195.6 93L196 114.1L196.5 115L196.9 106.1L197.3 121L197.8 99.1L198.2 114.8L198.7 106.8L199.1 94L199.5 117.1L200 129.6L200.4 129.3L200.8 109.9L201.3 114.6L201.7 129.2L202.1 96.6L202.6 126.7L203 89.9L203.5 95.9L203.9 106.7L204.3 105L204.8 120.1L205.2 97.7L205.6 108.1L206.1 105.8L206.5 111.4L206.9 116.2L207.4 119.5L207.8 113.1L208.3 113.8L208.7 110.4L209.1 94.3L209.6 91.9L210 113.7L210.4 96.7L210.9 102.7L211.3 112.4L211.7 107.1L212.2 103.1L212.6 102.3L213.1 111.3L213.5 124.7L213.9 96.1L214.4 109.7L214.8 121L215.2 115L215.7 107.5L216.1 113.5L216.6 117.3L217 123.1L217.4 99.8L217.9 106.8L218.3 117.4L218.7 119.1L219.2 117.7L219.6 119.6L220 124.1L220.5 120.6L220.9 114L221.4 111.2L221.8 114.3L222.2 104.9L222.7 123.5L223.1 120.6L223.5 117.4L224 109L224.4 117.3L224.8 123.5L225.3 127.4L225.7 108.7L226.2 123.7L226.6 125.5L227 136.6L227.5 126.9L227.9 131.5L228.3 108.9L228.8 121L229.2 123.9L229.6 122.6L230.1 121.3L230.5 121.4L231 135.7L231.4 121.1L231.8 131.5L232.3 131.4L232.7 122.7L233.1 127.3L233.6 141.8L234 121.6L234.5 136.4L234.9 122.1L235.3 135L235.8 136.1L236.2 117L236.6 139.6L237.1 128.1L237.5 117.6L237.9 122.9L238.4 142.1L238.8 130.7L239.3 128.6L239.7 130.8L240.1 128.2L240.6 124.4L241 135.3L241.4 142.6L241.9 131.1L242.3 143.9L242.7 140.1L243.2 118.2L243.6 137L244.1 142.5L244.5 117L244.9 127L245.4 135.7L245.8 124.6L246.2 132.1L246.7 129.5L247.1 124.4L247.5 131.1L248 128.8L248.4 131.9L248.9 132.2L249.3 126.9L249.7 126.1L250.2 127.8L250.6 137.1L251 124.8L251.5 144.5L251.9 126.2L252.3 149.4L252.8 132L253.2 130.4L253.7 130L254.1 138.5L254.5 136.2L255 127.5L255.4 136.7L255.8 139.4L256.3 137.3L256.7 146.6L257.2 139.1L257.6 134.6L258 131.5L258.5 140.7L258.9 149.7L259.3 126.1L259.8 130.9L260.2 136.1L260.6 146.1L261.1 147.3L261.5 132.9L262 146.3L262.4 139L262.8 148.3L263.3 140.7L263.7 144.9L264.1 140.7L264.6 133.5L265 133.2L265.4 145.4L265.9 135.5L266.3 133.4L266.8 140.1L267.2 146.2L267.6 147.9L268.1 136.8L268.5 141.6L268.9 147.9L269.4 137.9L269.8 151.8L270.2 145.2L270.7 135.5L271.1 149.7L271.6 142.1L272 158.3L272.4 143.7L272.9 158.4L273.3 151.1L273.7 150.9L274.2 150.6L274.6 143.2L275.1 147.7L275.5 153.9L275.9 160L276.4 158.2L276.8 140.6L277.2 159.1L277.7 142L278.1 134.5L278.5 159.2L279 153.3L279.4 138.3L279.9 154.8L280.3 143.5L280.7 143.1L281.2 148.8L281.6 135.6L282 151L282.5 153.9L282.9 158.7L283.3 145.5L283.8 146.8L284.2 163.7L284.7 163.1L285.1 136.6L285.5 157.3L286 161.7L286.4 146.3L286.8 162.1L287.3 150.9L287.7 149.9L288.1 142.3L288.6 166.6L289 144.8L289.5 154.4L289.9 140.7L290.3 147.2L290.8 141.7L291.2 168.4L291.6 145.4L292.1 150.2L292.5 155.5L293 161.4L293.4 141.8L293.8 162.2L294.3 146.3L294.7 161.5L295.1 153.4L295.6 162.5L296 149.4L296.4 166.9L296.9 160.4L297.3 158.5L297.8 163.4L298.2 162L298.6 161.4L299.1 144.3L299.5 162.6L299.9 158.6L300.4 164.8L300.8 163.1L301.2 156.8L301.7 165.9L302.1 177.2L302.6 167.6L303 162.6L303.4 163.8L303.9 173.1L304.3 156.1L304.7 163.2L305.2 159.5L305.6 148.7L306 171L306.5 172.8L306.9 160.8L307.4 162.5L307.8 170.2L308.2 181.8L308.7 163.8L309.1 174.9L309.5 178.4L310 147.1L310.4 164.2L310.9 170.3L311.3 163.2L311.7 175.9L312.2 169.4L312.6 171.2L313 164.1L313.5 149.6L313.9 169.8L314.3 156.5L314.8 174.3L315.2 169L315.7 156.8L316.1 170.7L316.5 150.6L317 174.7L317.4 172.4L317.8 178.8L318.3 181.1L318.7 159.7L319.1 159.2L319.6 175.9L320 159L320.5 152.2L320.9 162.7L321.3 167.1L321.8 175L322.2 165L322.6 163.1L323.1 173.2L323.5 170.8L323.9 176.6L324.4 158.9L324.8 177.6L325.3 160.1L325.7 179.9L326.1 178.6L326.6 163.8L327 169.9L327.4 166.1L327.9 176.5L328.3 179.3L328.8 171L329.2 173.1L329.6 165.2L330.1 177.7L330.5 177.2L330.9 169.6L331.4 163L331.8 180.7L332.2 163.7L332.7 167.2L333.1 165.2L333.6 174.5L334 171.7L334.4 160.7L334.9 167.9L335.3 167L335.7 180.4L336.2 180.4L336.6 187.5L337 187.9L337.5 186.7L337.9 168.9L338.4 169.9L338.8 162.9L339.2 182.4L339.7 175.6L340.1 165.5L340.5 178.2L341 173.4L341.4 182.2L341.8 172L342.3 168.7L342.7 174L343.2 173.3L343.6 181.9L344 171.5L344.5 170.4L344.9 175.5L345.3 163.5L345.8 169.8L346.2 180.7L346.7 166.3L347.1 183.6L347.5 169.1L348 172.4L348.4 179.2L348.8 175.9L349.3 164.1L349.7 161.2L350.1 177.2L350.6 167L351 172.8L351.5 181L351.9 174L352.3 171.3L352.8 166.5L353.2 177.5L353.6 177.6L354.1 168.8L354.5 164.5L354.9 173.8L355.4 187.9L355.8 175.2L356.3 176.8L356.7 177.4L357.1 179.7L357.6 170.3L358 167.8L358.4 178.6L358.9 202L359.3 164.9L359.7 177.2L360.2 177.3L360.6 176L361.1 181.2L361.5 174.5L361.9 187.3L362.4 173.7L362.8 168.6L363.2 179.3L363.7 186.2L364.1 187.1L364.6 179.9L365 196L365.4 168.9L365.9 190L366.3 194.6L366.7 182.1L367.2 190.7L367.6 180.6L368 179.1L368.5 182L368.9 189.6L369.4 175.5L369.8 196L370.2 182.4L370.7 179.6L371.1 194.3L371.5 186.5L372 187.8L372.4 175.6L372.8 183.4L373.3 181.3L373.7 196.6L374.2 179.1L374.6 173.6L375 206.5L375.5 172.7L375.9 185.8L376.3 179L376.8 195.7L377.2 173L377.6 184.7L378.1 174.1L378.5 184.3L379 179.6L379.4 181.8L379.8 188.2L380.3 193.4L380.7 180.4L381.1 165L381.6 181.5L382 182.1L382.5 196.4L382.9 195.2L383.3 188.2L383.8 178.4L384.2 188.1L384.6 183.4L385.1 194.1L385.5 181.9L385.9 188.5L386.4 181.6L386.8 184.7L387.3 195.1L387.7 196L388.1 193.7L388.6 191.1L389 189.4L389.4 191.5L389.9 184.4L390.3 190.4L390.7 182.4L391.2 186.1L391.6 194.6L392.1 179.2L392.5 185.2L392.9 183.4L393.4 190.7L393.8 198.3L394.2 185.7L394.7 184.6L395.1 185L395.5 196.7L396 194.3L396.4 179.8L396.9 181.8L397.3 190.3L397.7 180.3L398.2 177.2L398.6 187.4L399 181.2L399.5 188.7L399.9 185.6L400.4 194.9L400.8 199.9L401.2 185.1L401.7 186.7L402.1 197.4L402.5 176.4L403 190.8L403.4 192.4L403.8 219L404.3 190.9L404.7 186.6L405.2 195.9L405.6 199.6L406 177L406.5 176L406.9 176.9L407.3 190.5L407.8 198.7L408.2 182.1L408.6 210.9L409.1 182.8L409.5 194L410 188.3L410.4 178.4L410.8 186.1L411.3 189.2L411.7 183.1L412.1 189.3L412.6 178.7L413 201.9L413.4 177.2L413.9 176.9L414.3 179.2L414.8 195.2L415.2 206.9L415.6 176.2L416.1 199.2L416.5 200.7L416.9 187.3L417.4 200.5L417.8 199.5L418.3 186.2L418.7 210.9L419.1 194.2L419.6 188.1L420 195.2L420.4 200.4L420.9 201L421.3 190.1L421.7 207.3L422.2 198L422.6 188.6L423.1 183.3L423.5 177.9L423.9 212.9L424.4 201.7L424.8 203.3L425.2 186.6L425.7 207.3L426.1 198.6L426.5 196.6L427 186.6L427.4 188.3L427.9 207.5L428.3 204.4L428.7 195.7L429.2 210.6L429.6 205.2L430 182.2L430.5 218.7L430.9 199L431.3 220.7L431.8 190.1L432.2 203L432.7 210L433.1 220.8L433.5 198.8L434 205.1L434.4 216.4L434.8 216.9L435.3 213.6L435.7 196.9L436.2 194.7L436.6 186.2L437 189.6L437.5 202.9L437.9 211.5L438.3 212L438.8 226L439.2 208.7L439.6 207.8L440.1 211.3L440.5 203.6L441 184.5L441.4 196.5L441.8 201.4L442.3 186.2L442.7 187.1L443.1 211.3L443.6 219.1L444 217.8L444.4 218.5L444.9 193.2L445.3 203.1L445.8 213.2L446.2 201.6L446.6 206.3L447.1 195.1L447.5 196.7L447.9 209.8L448.4 201.4L448.8 208.9L449.2 209.1L449.7 191.8L450.1 223.4L450.6 205.6L451 198L451.4 212.9L451.9 219.6L452.3 207.4L452.7 209.9L453.2 198.8L453.6 201.4L454 211L454.5 223.6L454.9 209.6L455.4 220.2L455.8 211.7L456.2 206.4L456.7 218.2L457.1 214.5L457.5 222.6L458 226.7L458.4 214.4L458.9 214.6L459.3 220.9L459.7 203.4L460.2 206L460.6 219.8L461 194.9L461.5 214.9L461.9 197.7L462.3 217L462.8 212.5L463.2 208.1L463.7 209L464.1 196.3L464.5 209.1L465 200.8L465.4 222.4L465.8 209.5L466.3 219.2L466.7 216.5L467.1 208.4L467.6 204.1L468 201.6L468.5 218.9L468.9 219.6L469.3 196.3L469.8 205.3L470.2 214.8L470.6 211.5L471.1 190L471.5 213.5L471.9 231.7L472.4 201.1L472.8 219.6L473.3 207.1L473.7 198L474.1 214.6L474.6 207.1L475 212.5L475.4 218.4L475.9 229.6L476.3 217.5L476.8 208.3L477.2 199L477.6 205.8L478.1 217.6L478.5 222.2L478.9 194.4L479.4 212.2L479.8 234.4L480.2 215.6L480.7 225.5L481.1 210.3L481.6 198.2L482 206.7L482.4 222.6L482.9 207.3L483.3 215.2L483.7 218.7L484.2 198.5L484.6 235.6L485 202.5L485.5 198.2L485.9 226.7L486.4 215.5L486.8 223.5L487.2 226.3L487.7 232.9L488.1 219.7L488.5 203.2L489 197.4L489.4 237.7L489.8 218.9L490.3 212.6L490.7 218.6L491.2 229.6L491.6 221.4L492 202.1L492.5 226.3L492.9 235.1L493.3 214.2L493.8 223.2L494.2 206.8L494.7 218.8L495.1 205.4L495.5 214.8L496 252L496.4 223.4L496.8 226.7L497.3 204.7L497.7 226.8L498.1 212.1L498.6 220.3L499 225.1L499.5 210.5L499.9 236.7L500.3 239.5L500.8 218.4L501.2 210.1L501.6 239L502.1 239.1L502.5 223L502.9 240.9L503.4 226.5L503.8 215L504.3 215.4L504.7 234.3L505.1 220.9L505.6 210.2L506 224L506.4 227.8L506.9 217.8L507.3 226.6L507.7 238.6L508.2 221.8L508.6 237.6L509.1 223.5L509.5 231.6L509.9 220.4L510.4 221.3L510.8 203.9L511.2 224.7L511.7 212.1L512.1 210L512.6 210.7L513 210.7L513.4 235.4L513.9 205.3L514.3 221L514.7 225.1L515.2 192L515.6 227.5L516 225.6L516.5 227.2L516.9 238.2L517.4 203.7L517.8 204.7L518.2 221.8L518.7 222.9L519.1 232.8L519.5 221.6L520 235.3L520.4 214L520.8 213.7L521.3 228.5L521.7 217.3L522.2 230.6L522.6 216.7L523 216.3L523.5 232.5L523.9 231.6L524.3 219.9L524.8 241L525.2 217.4L525.6 226.9L526.1 243.3L526.5 232.8L527 241.2L527.4 230.5L527.8 214L528.3 235.9L528.7 225.9L529.1 213.2L529.6 211.7L530 229.3L530.5 213.3L530.9 214.7L531.3 237.4L531.8 233.8L532.2 238.9L532.6 217.8L533.1 230.4L533.5 231.3L533.9 221.7L534.4 217.4L534.8 234.1L535.3 233L535.7 208L536.1 232L536.6 237L537 208.3L537.4 226.8L537.9 217L538.3 227L538.7 226.9L539.2 233.4L539.6 213L540.1 246.4L540.5 238.6L540.9 256L541.4 221.6L541.8 220.7L542.2 231.8L542.7 228.8L543.1 229.8L543.5 219L544 227.8L544.4 219.6L544.9 214L545.3 213.2L545.7 208.6L546.2 238.5L546.6 208.8L547 223.5L547.5 229.4L547.9 235L548.4 223.1L548.8 268L549.2 223.6L549.7 224.2L550.1 221L550.5 213.9L551 221.7L551.4 226.2L551.8 230.3L552.3 237L552.7 212L553.2 222L553.6 217.5L554 238.5L554.5 241.8L554.9 224.7L555.3 219.4L555.8 241.9L556.2 230.7L556.6 247.3L557.1 212L557.5 231.9L558 218.4L558.4 241.3L558.8 218.3L559.3 228.6L559.7 233.1L560.1 233.7L560.6 219L561 225L561.4 235.3L561.9 240.1L562.3 240.4L562.8 233.1L563.2 229.1L563.6 234.4L564.1 228.1L564.5 216.3L564.9 219.3L565.4 240.2L565.8 226.9L566.3 229.3L566.7 242.1L567.1 228.9L567.6 227L568 248L568.4 227.7L568.9 220L569.3 227.1L569.7 235.7L570.2 253.7L570.6 236.7L571.1 243.9L571.5 221.5L571.9 244.3L572.4 225.4L572.8 246.9L573.2 243.4L573.7 253.5L574.1 239L574.5 243.8L575 234.5L575.4 228.7L575.9 238.9L576.3 248.3L576.7 223.1L577.2 242.8L577.6 226.7L578 221.8L578.5 232.3L578.9 224.9L579.3 229.3L579.8 247.1L580.2 233.2L580.7 226.1L581.1 221L581.5 244.4L582 230.9L582.4 236.3L582.8 238.5L583.3 247.8L583.7 230.1L584.2 248.4L584.6 248.5L585 238.8L585.5 221.8L585.9 224.1L586.3 239.4L586.8 250.4L587.2 247.2L587.6 246L588.1 247L588.5 235.9L589 238.1L589.4 238.7L589.8 232.3L590.3 223.6L590.7 231L591.1 228.6L591.6 233.6L592 230.2L592.4 242.3L592.9 244.8L593.3 236L593.8 242.2L594.2 221.2L594.6 228.9L595.1 249.3L595.5 227.8L595.9 234.4L596.4 249.2L596.8 242.1L597.2 231.4L597.7 229.1L598.1 232L598.6 242.5L599 224.2L599.4 237.3L599.9 241.9L600.3 238.9L600.7 234.3L601.2 236.3L601.6 240.3L602.1 248L602.5 243.8L602.9 231.7L603.4 223.2L603.8 220.1L604.2 223.6L604.7 212L605.1 217.5L605.5 209L606 203.6L606.4 200L606.9 213.1L607.3 187L609 250L609.4 320L609.8 349L610.4 358L611.2 362L612.5 366L614 370L610.3 369.7L610.8 364.7L611.2 373.9L611.7 369.1L612.1 368.2L612.5 366.4L613 373.3L613.4 366L613.8 372.3L614.3 368L614.7 370.6L615.1 370.7L615.6 374.7L616 376.3L616.5 371L616.9 379.4L617.3 379.3L617.8 381.5L618.2 384L618.6 374.8L619.1 380.2L619.5 376.6L620 380.8L620.4 385.2L620.8 388.5L621.3 388L621.7 387.7L622.1 389.2L622.6 382.9L623 388.2L623.4 389.4L623.9 381.1L624.3 388.5L624.8 389.8L625.2 385.7L625.6 390.6L626.1 392.7L626.5 390.9L626.9 392.6L627.4 386L627.8 398.6L628.2 390.2L628.7 387.3L629.1 401L629.6 393.3L630 394.9L630.4 412.1L630.9 404.4L631.3 392.3L631.7 396.4L632.2 410.9L632.6 410L633 398.5L633.5 426L633.9 410.4L634.4 403.4L634.8 394.5L635.2 406.5L635.7 387.2L636.1 402.9L636.5 398.2L637 387L637.4 387.4L637.9 385.2L638.3 403.6L638.7 395.7L639.2 392.7L639.6 399.4L640 398.6L640.5 403.9L640.9 402.6L641.3 396.3L641.8 384.2L642.2 394.2L642.7 401.9L643.1 402.1L643.5 408.4L644 395.9L644.4 386.1L644.8 392.5L645.3 400.9L645.7 408.5L646.1 409.2L646.6 407.1L647 385.5L647.5 394.1L647.9 404L648.3 401.3L648.8 406.2L649.2 385L649.6 402.9L650.1 411.3L650.5 391.4L650.9 396.3L651.4 392.2L651.8 402.7L652.3 392.7L652.7 394.4L653.1 399.6L653.6 385.5L654 405.7L654.4 386.1L654.9 396.7L655.3 392.6L655.7 385.9L656.2 390.3L656.6 391.7L657.1 383.3L657.5 390L657.9 376.3L658.4 386.4L658.8 398.2L659.2 391.2L659.7 397.4L660.1 367.1L660.6 381.6L661 384.4L661.4 399L661.9 359L662.3 382.6L662.7 394.6L663.2 388.8L663.6 389.8L664 384.5L664.5 398.8L664.9 393.3L665.4 378.2L665.8 381.5L666.2 388.9L666.7 388.2L667.1 372.9L667.5 389.9L668 381.1L668.4 373.1L668.8 387.2L669.3 400.4L669.7 385L670.2 388.3L670.6 382.5L671 399.8L671.5 405L671.9 379L672.3 397.5L672.8 400.6L673.2 407.3L673.6 388.2L674.1 410.3L674.5 382.2L675 397.9L675.4 390.8L675.8 393.2L676.3 408.8L676.7 403L677.1 406.1L677.6 397.2L678 390.5L678.5 412L678.9 402.5L679.3 395.6L679.8 414.9L680.2 416.8L680.6 386.6L681.1 398.7L681.5 415.4L681.9 396L682.4 405L682.8 403.6L683.3 409.6L683.7 407.7L684.1 395.8L684.6 405.5L685 400.9L685.4 403.5L685.9 418.6L686.3 414.5L686.7 405.1L687.2 410.6L687.6 424.6L688.1 407.1L688.5 402.7L688.9 416.3L689.4 400.5L689.8 391.9L690.2 402.9L690.7 392.7L691.1 409.4L691.5 413.2L692 372L692.4 384.6L692.9 420.3L693.3 415.9L693.7 391.9L694.2 417.3L694.6 392.3L695 421.3L695.5 426.8L695.9 421.9L696.4 436.8L696.8 423.5L697.2 408.2L697.7 416.5L698.1 443.6L698.5 412.4L699 432L699.4 404.2L699.8 440.4L700.3 408.7L700.7 405L701.2 451.6L701.6 451.6L702 411.2L702.5 425.1L702.9 449.7L703.3 423.6L703.8 448.9L704.2 435.4L704.6 426.8L705.1 413.8L705.5 456.7L706 416.6L706.4 413.2L706.8 416.2L707.3 436L707.7 406.4L708.1 420.6L708.6 444.2L709 428.4L709.4 442L709.9 432.1L710.3 415.2L710.8 454.4L711.2 461.5L711.6 461.5L712.1 468.6L712.5 404.9L712.9 457.5L713.4 399.6L713.8 413.6L714.3 468.6L714.7 425.7L715.1 418.1L715.6 468.6L716 457.3L716.4 466.2L716.9 453.5L717.3 453.2L717.7 468.6L718.2 414.6L718.6 436.8L719.1 429L719.5 461.3L719.9 406.5L720.4 468.6L720.8 468.6L721.2 416.6L721.7 451.5L722.1 468.6L722.5 415.5L723 461.8L723.4 444.7L723.9 451.2L724.3 459L724.7 465.7L725.2 441.9L725.6 452.9L726 449.3L726.5 442.9L726.9 441.8L727.3 446.9L727.8 441.6L728.2 438L728.7 453.6L729.1 427.7L729.5 425.8L730 415.8L730.4 408.9L730.8 404.4L731.3 421.5L731.7 411.8L732.2 468.6L732.6 451.6L733 421.2L733.5 452.1L733.9 458L734.3 418.4L734.8 468.6L735.2 458.9L735.6 433.3L736.1 438.9L736.5 460.5L737 461.4L737.4 444.8L737.8 454.9L738.3 468.6L738.7 460.6L739.1 468.6L739.6 468.6L740 464.9L740.4 451.6L740.9 466.9L741.3 464.1L741.8 468.3L742.2 468.6L742.6 468.6L743.1 468.6L743.5 468.6L743.9 468.6L744.4 468.6L744.8 468.6L745.2 468.6L745.7 468.6L746.1 468.6L746.6 468.6L747 468.6L747.4 468.6L747.9 468.6L748.3 468.6L748.7 468.6L749.2 468.6L749.6 468.6L750.1 468.6L750.5 468.6L750.9 468.6L751.4 468.6L751.8 468.6L752.2 468.6L752.7 468.6L753.1 468.6L753.5 468.6L754 468.6L754.4 468.6L754.9 468.6L755.3 468.6L755.7 468.6L756.2 468.6L756.6 468.6" fill="none" stroke="#1f77b4" stroke-width="2.5" stroke-linejoin="round" stroke-linecap="square"/>
<path d="M133.6 25.4 L756.6 468.6" fill="none" stroke="#ff7f0e" stroke-width="2.3" stroke-linecap="square"/>
<rect x="102.8" y="3.1" width="685.8" height="487.3" fill="none" stroke="#1a1a1a" stroke-width="1.7"/>
<path d="M133.1 490.4 v6.2" stroke="#1a1a1a" stroke-width="1.5"/>
<text x="133.1" y="516" text-anchor="middle" class="tk">0</text>
<path d="M220.5 490.4 v6.2" stroke="#1a1a1a" stroke-width="1.5"/>
<text x="220.5" y="516" text-anchor="middle" class="tk">200</text>
<path d="M307.8 490.4 v6.2" stroke="#1a1a1a" stroke-width="1.5"/>
<text x="307.8" y="516" text-anchor="middle" class="tk">400</text>
<path d="M395.2 490.4 v6.2" stroke="#1a1a1a" stroke-width="1.5"/>
<text x="395.2" y="516" text-anchor="middle" class="tk">600</text>
<path d="M482.6 490.4 v6.2" stroke="#1a1a1a" stroke-width="1.5"/>
<text x="482.6" y="516" text-anchor="middle" class="tk">800</text>
<path d="M570 490.4 v6.2" stroke="#1a1a1a" stroke-width="1.5"/>
<text x="570" y="516" text-anchor="middle" class="tk">1000</text>
<path d="M657.3 490.4 v6.2" stroke="#1a1a1a" stroke-width="1.5"/>
<text x="657.3" y="516" text-anchor="middle" class="tk">1200</text>
<path d="M744.7 490.4 v6.2" stroke="#1a1a1a" stroke-width="1.5"/>
<text x="744.7" y="516" text-anchor="middle" class="tk">1400</text>
<path d="M102.8 468.6 h-6.2" stroke="#1a1a1a" stroke-width="1.5"/>
<text x="89.6" y="475.6" text-anchor="end" class="tk">0%</text>
<path d="M102.8 379.9 h-6.2" stroke="#1a1a1a" stroke-width="1.5"/>
<text x="89.6" y="386.9" text-anchor="end" class="tk">20%</text>
<path d="M102.8 291.3 h-6.2" stroke="#1a1a1a" stroke-width="1.5"/>
<text x="89.6" y="298.3" text-anchor="end" class="tk">40%</text>
<path d="M102.8 202.7 h-6.2" stroke="#1a1a1a" stroke-width="1.5"/>
<text x="89.6" y="209.7" text-anchor="end" class="tk">60%</text>
<path d="M102.8 114 h-6.2" stroke="#1a1a1a" stroke-width="1.5"/>
<text x="89.6" y="121" text-anchor="end" class="tk">80%</text>
<path d="M102.8 25.4 h-6.2" stroke="#1a1a1a" stroke-width="1.5"/>
<text x="89.6" y="32.4" text-anchor="end" class="tk">100%</text>
<text x="445.7" y="542.6" text-anchor="middle" class="lb">Time(min)</text>
<text transform="translate(31,249.2) rotate(-90)" text-anchor="middle" class="lb">RUL</text>
<rect x="614.5" y="11.5" width="165" height="57" rx="3" ry="3" fill="#fff" fill-opacity="0.8" stroke="#d4d4d4" stroke-width="1.2"/>
<path d="M620 26.5 h37.5" stroke="#1f77b4" stroke-width="2.5"/>
<path d="M620 52.5 h37.5" stroke="#ff7f0e" stroke-width="2.5"/>
<text x="671" y="32.6" class="lg">Predict-RUL</text>
<text x="671" y="58.6" class="lg">True-RUL</text>
<text transform="translate(441.5,594.4) scale(1,1.075)" text-anchor="middle" class="tt">B1<tspan dy="3.2">_</tspan><tspan dy="-3.2">4</tspan></text>
</g>
<g transform="translate(0,610.2)">
<path d="M133.6 44.1L134.4 45.9L135.3 52.3L136.1 40.7L136.9 49.4L137.8 42.3L138.6 42.7L139.4 67.7L140.2 44.9L141.1 54.6L141.9 60.8L142.7 55.3L143.6 42.7L144.4 43.5L145.2 75.7L146.1 52.1L146.9 30L147.7 58.2L148.6 48.3L149.4 46.2L150.2 42.3L151 82.5L151.9 37.4L152.7 50.8L153.5 55.9L154.4 54.8L155.2 45.7L156 59.3L156.9 69.1L157.7 54.5L158.5 68L159.3 71.1L160.2 78.4L161 58.1L161.8 52.7L162.7 56.3L163.5 60.2L164.3 39.7L165.2 41.7L166 42L166.8 62.1L167.7 60.5L168.5 50L169.3 92.7L170.1 54.7L171 53.6L171.8 50.5L172.6 88.8L173.5 91.9L174.3 52.6L175.1 72.9L176 76.9L176.8 117.8L177.6 34.4L178.5 34.9L179.3 88L180.1 72.2L180.9 73.1L181.8 63.6L182.6 57.6L183.4 104.8L184.3 50.1L185.1 75.3L185.9 55.3L186.8 62.1L187.6 68L188.4 63L189.3 44.9L190.1 67L190.9 100.7L191.7 66L192.6 74.5L193.4 45.9L194.2 46.6L195.1 97.8L195.9 41.8L196.7 63.9L197.6 67.3L198.4 110.4L199.2 47.3L200.1 95.9L200.9 90.5L201.7 95.1L202.5 104.2L203.4 84.9L204.2 87.4L205 84.3L205.9 102.5L206.7 67.3L207.5 92.7L208.4 70.6L209.2 79.2L210 77.7L210.8 82.2L211.7 65.6L212.5 74.6L213.3 105.1L214.2 63.9L215 49.2L215.8 89.5L216.7 122.6L217.5 84.3L218.3 81.4L219.2 47.1L220 104.8L220.8 77.3L221.6 50.9L222.5 67.8L223.3 121.2L224.1 82.5L225 82.5L225.8 106.4L226.6 61.6L227.5 114L228.3 78.1L229.1 110.6L230 112.4L230.8 132L231.6 76.8L232.4 95.5L233.3 78.8L234.1 109.4L234.9 106L235.8 161.8L236.6 117.6L237.4 98.6L238.3 82.6L239.1 123.6L239.9 94.9L240.8 123L241.6 83.7L242.4 86.8L243.2 88.9L244.1 103.9L244.9 140.2L245.7 111.1L246.6 96.1L247.4 93.5L248.2 66.1L249.1 106.3L249.9 110.7L250.7 127.2L251.6 101.6L252.4 120.4L253.2 122.8L254 94.4L254.9 110.8L255.7 121.8L256.5 73.6L257.4 118.1L258.2 119.7L259 103.3L259.9 112.1L260.7 149.1L261.5 77.8L262.4 124L263.2 138.6L264 156.8L264.8 128.1L265.7 113.9L266.5 85L267.3 168.9L268.2 82.2L269 73L269.8 122.9L270.7 92.5L271.5 143L272.3 119L273.1 128L274 136.3L274.8 155.2L275.6 126.8L276.5 114L277.3 104.1L278.1 122.2L279 143L279.8 140.7L280.6 95.5L281.5 138.3L282.3 105.1L283.1 114.9L283.9 167.1L284.8 112.2L285.6 174.4L286.4 112L287.3 166.1L288.1 132.4L288.9 139.2L289.8 80.8L290.6 152.6L291.4 122.9L292.3 118.7L293.1 118L293.9 182.6L294.7 167L295.6 124.5L296.4 143.9L297.2 97L298.1 145.9L298.9 132.6L299.7 159.2L300.6 152.2L301.4 152.4L302.2 188.1L303.1 192.5L303.9 182.7L304.7 126.3L305.5 126.2L306.4 132.8L307.2 159.9L308 125.4L308.9 170.1L309.7 120.2L310.5 147.3L311.4 150.8L312.2 172.1L313 121.4L313.9 154.9L314.7 193.2L315.5 177.7L316.3 108.6L317.2 180.5L318 194.1L318.8 133.6L319.7 109.1L320.5 140.7L321.3 172.9L322.2 161.6L323 157.7L323.8 212.6L324.6 142.9L325.5 177.6L326.3 182.2L327.1 151.7L328 117.2L328.8 178.3L329.6 166.2L330.5 197.3L331.3 135.7L332.1 196.2L333 185.8L333.8 159.7L334.6 186.9L335.4 147.3L336.3 205.1L337.1 194.4L337.9 196.4L338.8 180.8L339.6 165.4L340.4 137.5L341.3 186.6L342.1 191L342.9 188.6L343.8 169.5L344.6 220.9L345.4 141.5L346.2 204.5L347.1 181.1L347.9 161.7L348.7 126.3L349.6 149.5L350.4 167.4L351.2 170.1L352.1 218.3L352.9 181.2L353.7 171.1L354.6 224.3L355.4 150.7L356.2 177.3L357 202.6L357.9 210.2L358.7 168L359.5 141.4L360.4 176.5L361.2 137.2L362 171.3L362.9 206.8L363.7 227.3L364.5 196.4L365.4 186.8L366.2 161.1L367 279.8L367.8 221.9L368.7 193.8L369.5 158.8L370.3 244.4L371.2 199.1L372 184.6L372.8 197.7L373.7 137.8L374.5 230.6L375.3 218.3L376.1 195.6L377 173.5L377.8 192.4L378.6 244L379.5 225.7L380.3 171.1L381.1 218.8L382 247L382.8 229.6L383.6 191.4L384.5 167.3L385.3 211.8L386.1 199.4L386.9 245.1L387.8 215.4L388.6 155.5L389.4 160.1L390.3 234L391.1 250L391.9 257.2L392.8 174.1L393.6 172.1L394.4 258.6L395.3 172.6L396.1 240.9L396.9 205.7L397.7 188.7L398.6 252.5L399.4 238.6L400.2 230.6L401.1 290.8L401.9 204.8L402.7 167.7L403.6 242.3L404.4 178.2L405.2 255.6L406.1 185.7L406.9 214.6L407.7 220L408.5 251.3L409.4 256.6L410.2 235.6L411 202.9L411.9 248.7L412.7 187.3L413.5 255.8L414.4 260.9L415.2 197.6L416 264.1L416.9 205.4L417.7 190.4L418.5 254.3L419.3 263.4L420.2 208.8L421 176.2L421.8 200.7L422.7 227.2L423.5 225.3L424.3 250.6L425.2 282.4L426 288.8L426.8 258.2L427.6 232.3L428.5 234.4L429.3 240.5L430.1 218.9L431 238.3L431.8 192.3L432.6 226.9L433.5 222.6L434.3 221.5L435.1 249.2L436 214L436.8 195L437.6 205.7L438.4 245.1L439.3 237.8L440.1 234.3L440.9 222.7L441.8 275.1L442.6 297.6L443.4 267.7L444.3 227.9L445.1 244.1L445.9 228.4L446.8 203.4L447.6 239.4L448.4 220.3L449.2 217.3L450.1 262.7L450.9 290.2L451.7 263.2L452.6 284L453.4 225.1L454.2 273.2L455.1 254.2L455.9 253.6L456.7 254.6L457.6 287.4L458.4 301.8L459.2 248.1L460 212.7L460.9 253.4L461.7 237.1L462.5 305.8L463.4 220.6L464.2 222.9L465 315.2L465.9 265.3L466.7 275.6L467.5 309.1L468.4 284.7L469.2 261.8L470 268.2L470.8 294.2L471.7 213.8L472.5 271.6L473.3 225.5L474.2 261L475 230.8L475.8 230.4L476.7 259.6L477.5 305.9L478.3 270L479.1 266.8L480 268.2L480.8 259.4L481.6 312.6L482.5 318.7L483.3 314.8L484.1 291.5L485 285.5L485.8 301.5L486.6 283.2L487.5 296.7L488.3 246.6L489.1 276.9L489.9 257.4L490.8 290.6L491.6 292.4L492.4 267.7L493.3 333L494.1 213.8L494.9 270.3L495.8 278.6L496.6 316.5L497.4 287.6L498.3 295.1L499.1 323.3L499.9 253.8L500.7 310.7L501.6 263.3L502.4 277.7L503.2 318.5L504.1 314.5L504.9 271.5L505.7 269.5L506.6 296.8L507.4 338.7L508.2 340.5L509.1 264.5L509.9 285.6L510.7 258.3L511.5 279L512.4 293.9L513.2 299.3L514 344.1L514.9 339.2L515.7 339.8L516.5 300.2L517.4 313.9L518.2 281.6L519 299.7L519.9 249.4L520.7 291.8L521.5 284.5L522.3 300.8L523.2 305.4L524 307.6L524.8 261L525.7 321.8L526.5 309L527.3 351.9L528.2 271L529 315.5L529.8 327.6L530.6 319.8L531.5 339.1L532.3 276.7L533.1 363.5L534 325.8L534.8 296.1L535.6 317.6L536.5 341.3L537.3 283.5L538.1 351.6L539 315.6L539.8 379.8L540.6 285.1L541.4 264.7L542.3 352L543.1 352.3L543.9 284.1L544.8 326.3L545.6 266.8L546.4 334.8L547.3 290.7L548.1 315.7L548.9 311L549.8 337.4L550.6 375.8L551.4 314L552.2 352.2L553.1 332.6L553.9 340.3L554.7 296.5L555.6 346.4L556.4 359.2L557.2 304.3L558.1 376L558.9 309.1L559.7 286.4L560.6 290.8L561.4 350.5L562.2 375.6L563 344.8L563.9 367.3L564.7 346L565.5 284.3L566.4 360.8L567.2 340.2L568 368L568.9 305.7L569.7 290.6L570.5 348.5L571.4 315.3L572.2 371.2L573 340.1L573.8 374.1L574.7 317.8L575.5 319.3L576.3 391.9L577.2 371.4L578 340L578.8 367L579.7 341.7L580.5 307.7L581.3 288.8L582.1 352.8L583 361.3L583.8 347L584.6 370.9L585.5 371.9L586.3 313.1L587.1 387.1L588 327.1L588.8 387L589.6 421.8L590.5 307L591.3 334.8L592.1 347L592.9 361.3L593.8 351.7L594.6 349.2L595.4 359.9L596.3 391.6L597.1 332.8L597.9 325.1L598.8 388L599.6 356.4L600.4 364L601.3 337L602.1 328.9L602.9 362.8L603.7 379.6L604.6 398.5L605.4 370.5L606.2 379.2L607.1 368.2L607.9 356.9L608.7 325.8L609.6 362.8L610.4 374.2L611.2 374.1L612.1 376.3L612.9 376.8L613.7 349.4L614.5 396.7L615.4 413L616.2 376L617 341.6L617.9 301.8L618.7 393.2L619.5 365.7L620.4 334.7L621.2 419.6L622 396.1L622.9 392L623.7 350.4L624.5 383.7L625.3 384.8L626.2 397.3L627 370L627.8 373.1L628.7 417.3L629.5 393.4L630.3 381.5L631.2 422.6L632 372.6L632.8 377.4L633.6 397.7L634.5 393.5L635.3 351.7L636.1 389.5L637 390.7L637.8 419.4L638.6 363.1L639.5 370.2L640.3 411.5L641.1 404L642 384.3L642.8 379.3L643.6 393.8L644.4 386.7L645.3 391.7L646.1 377.9L646.9 366.7L647.8 377.9L648.6 396.6L649.4 361.4L650.3 391.8L651.1 368.3L651.9 375.5L652.8 416.3L653.6 361.9L654.4 413.9L655.2 407.2L656.1 403.3L656.9 415.5L657.7 413.2L658.6 381.9L659.4 401.7L660.2 358.8L661.1 383.3L661.9 379.1L662.7 393.4L663.6 386.1L664.4 373.8L665.2 420.7L666 400.1L666.9 433.3L667.7 389.3L668.5 443.8L669.4 383.1L670.2 409.8L671 395.8L671.9 428.7L672.7 411.5L673.5 431.5L674.4 423.9L675.2 422.6L676 407.1L676.8 384.6L677.7 345.8L678.5 430.8L679.3 416.4L680.2 410.3L681 388.6L681.8 422.4L682.7 398.4L683.5 415.2L684.3 420.8L685.1 424.6L686 420.3L686.8 404.1L687.6 404.7L688.5 415.9L689.3 400L690.1 397.4L691 424.8L691.8 398.9L692.6 444L693.5 423.9L694.3 424.8L695.1 411.8L695.9 427.3L696.8 412.2L697.6 411.5L698.4 404.8L699.3 415.1L700.1 406.1L700.9 425.8L701.8 437.2L702.6 400.5L703.4 402.1L704.3 414.9L705.1 416.7L705.9 447.1L706.7 418.2L707.6 424L708.4 423.7L709.2 428.5L710.1 448.3L710.9 405.5L711.7 429.6L712.6 417.6L713.4 433.2L714.2 415.8L715.1 416L715.9 413.3L716.7 438.9L717.5 432.1L718.4 427.3L719.2 427.1L720 424.5L720.9 436.8L721.7 446.7L722.5 432L723.4 423L724.2 432.8L725 424L725.9 410.1L726.7 413.7L727.5 411.9L728.3 406.2L729.2 431.4L730 420.8L730.8 431L731.7 439.8L732.5 404.7L733.3 447.7L734.2 440.8L735 442.4L735.8 412.5L736.6 427.4L737.5 431.5L738.3 411L739.1 420.1L740 423.6L740.8 436.5L741.6 451.5L742.5 423.8L743.3 441.2L744.1 424.2L745 439.7L745.8 425.7L746.6 408.2L747.4 424.1L748.3 432.3L749.1 402.8L749.9 428.7L750.8 439.7L751.6 429.8L752.3 468.2L753.2 468.2L754 468.2L754.9 468.2L755.7 468.2L756.6 468.2" fill="none" stroke="#1f77b4" stroke-width="2.5" stroke-linejoin="round" stroke-linecap="square"/>
<path d="M133.6 25.6 L756.6 468.2" fill="none" stroke="#ff7f0e" stroke-width="2.0" stroke-linecap="square"/>
<rect x="102.8" y="3.1" width="685.8" height="487.3" fill="none" stroke="#1a1a1a" stroke-width="1.7"/>
<path d="M132.9 490.4 v6.2" stroke="#1a1a1a" stroke-width="1.5"/>
<text x="132.9" y="516" text-anchor="middle" class="tk">0</text>
<path d="M216 490.4 v6.2" stroke="#1a1a1a" stroke-width="1.5"/>
<text x="216" y="516" text-anchor="middle" class="tk">100</text>
<path d="M299 490.4 v6.2" stroke="#1a1a1a" stroke-width="1.5"/>
<text x="299" y="516" text-anchor="middle" class="tk">200</text>
<path d="M382.1 490.4 v6.2" stroke="#1a1a1a" stroke-width="1.5"/>
<text x="382.1" y="516" text-anchor="middle" class="tk">300</text>
<path d="M465.2 490.4 v6.2" stroke="#1a1a1a" stroke-width="1.5"/>
<text x="465.2" y="516" text-anchor="middle" class="tk">400</text>
<path d="M548.2 490.4 v6.2" stroke="#1a1a1a" stroke-width="1.5"/>
<text x="548.2" y="516" text-anchor="middle" class="tk">500</text>
<path d="M631.3 490.4 v6.2" stroke="#1a1a1a" stroke-width="1.5"/>
<text x="631.3" y="516" text-anchor="middle" class="tk">600</text>
<path d="M714.4 490.4 v6.2" stroke="#1a1a1a" stroke-width="1.5"/>
<text x="714.4" y="516" text-anchor="middle" class="tk">700</text>
<path d="M102.8 468.2 h-6.2" stroke="#1a1a1a" stroke-width="1.5"/>
<text x="89.6" y="475.2" text-anchor="end" class="tk">0%</text>
<path d="M102.8 379.7 h-6.2" stroke="#1a1a1a" stroke-width="1.5"/>
<text x="89.6" y="386.7" text-anchor="end" class="tk">20%</text>
<path d="M102.8 291.2 h-6.2" stroke="#1a1a1a" stroke-width="1.5"/>
<text x="89.6" y="298.2" text-anchor="end" class="tk">40%</text>
<path d="M102.8 202.6 h-6.2" stroke="#1a1a1a" stroke-width="1.5"/>
<text x="89.6" y="209.6" text-anchor="end" class="tk">60%</text>
<path d="M102.8 114.1 h-6.2" stroke="#1a1a1a" stroke-width="1.5"/>
<text x="89.6" y="121.1" text-anchor="end" class="tk">80%</text>
<path d="M102.8 25.6 h-6.2" stroke="#1a1a1a" stroke-width="1.5"/>
<text x="89.6" y="32.6" text-anchor="end" class="tk">100%</text>
<text x="445.7" y="542.6" text-anchor="middle" class="lb">Time(min)</text>
<text transform="translate(31,249.2) rotate(-90)" text-anchor="middle" class="lb">RUL</text>
<rect x="614.5" y="11.5" width="165" height="57" rx="3" ry="3" fill="#fff" fill-opacity="0.8" stroke="#d4d4d4" stroke-width="1.2"/>
<path d="M620 26.5 h37.5" stroke="#1f77b4" stroke-width="2.5"/>
<path d="M620 52.5 h37.5" stroke="#ff7f0e" stroke-width="2.5"/>
<text x="671" y="32.6" class="lg">Predict-RUL</text>
<text x="671" y="58.6" class="lg">True-RUL</text>
<text transform="translate(441.5,594.9) scale(1,1.075)" text-anchor="middle" class="tt">B2<tspan dy="3.2">_</tspan><tspan dy="-3.2">4</tspan></text>
</g>
<g transform="translate(799.5,610.2)">
<path d="M133.5 122.2L136.1 141.8L138.9 145.8L141.5 135.8L144.1 111.8L146.9 110.8L149.7 97.8L152.5 116.8L155.3 101.8L158.1 133.8L160.7 109.8L163.5 129.8L166.1 130.8L168.9 146.8L171.7 135.8L174.1 126.8L176.9 133.8L179.7 148.8L182.1 114.8L184.9 171.8L187.7 141.8L190.5 186.8L193.3 139.8L196.1 138.8L198.9 117.8L204.1 116.8L206.9 156.8L209.5 147.8L212.5 185.8L214.9 177.8L217.5 208.8L220.5 118.8L223.1 135.8L225.9 125.8L228.7 105.8L231.5 161.8L234.1 167.8L236.9 138.8L239.7 175.8L242.3 149.8L245.1 189.8L247.9 177.8L250.5 153.8L253.3 183.8L256.1 191.8L258.5 175.8L261.1 224.8L264.1 145.8L266.9 123.8L269.5 147.8L272.5 173.8L275.1 181.8L277.9 222.8L280.5 193.8L283.3 169.8L285.9 208.8L288.5 165.8L291.3 194.8L294.1 172.8L296.7 175.8L299.5 183.8L302.1 187.8L304.9 199.8L307.7 125.8L310.5 197.8L313.3 242.8L316.1 159.8L318.5 144.8L321.3 151.8L324.1 144.8L326.9 211.8L329.5 155.8L332.1 195.8L334.9 157.8L337.7 175.8L340.5 169.8L343.1 183.8L345.9 189.8L348.7 235.8L351.5 213.8L356.9 187.8L362.5 191.8L364.9 243.8L367.7 243.8L370.5 167.8L373.1 235.8L375.9 213.8L378.7 223.8L381.5 199.8L384.1 205.8L386.9 221.8L389.7 247.8L392.5 203.8L395.1 209.8L397.9 223.8L400.5 229.8L403.3 212.8L406.1 251.8L408.7 206.8L411.5 248.8L414.1 173.8L416.9 199.8L419.7 225.8L422.5 243.8L425.1 244.8L427.9 178.8L430.7 213.8L433.3 197.8L436.1 235.8L438.5 257.8L441.5 205.8L444.1 285.8L446.9 229.8L449.7 194.8L452.3 286.8L455.1 186.8L457.9 335.8L460.5 299.8L463.3 199.8L465.5 191.8L468.5 215.8L471.5 254.8L474.1 199.8L476.9 265.8L479.7 319.8L482.3 235.8L484.9 317.8L487.7 230.8L490.5 233.8L493.1 243.8L495.9 202.8L498.7 249.8L501.3 222.8L504.1 319.8L506.7 259.8L509.5 307.8L512.3 233.8L514.9 249.8L517.7 264.8L520.5 211.8L523.1 205.8L525.9 223.8L528.5 269.8L531.3 301.8L533.9 241.8L536.7 261.8L539.5 288.8L542.1 236.8L544.9 315.8L547.5 213.8L550.3 304.8L552.9 231.8L555.7 245.8L558.5 315.8L561.1 326.8L563.9 253.8L566.5 217.8L569.3 254.8L572.1 243.8L574.7 231.8L577.5 269.8L580.1 360.8L582.9 277.8L585.7 258.8L588.5 267.8L591.1 292.8L593.9 271.8L596.5 239.8L599.5 224.8L602.1 292.8L604.7 253.8L607.5 287.8L610.1 360.8L612.9 269.8L615.7 331.8L618.5 277.8L621.1 282.8L623.9 383.8L626.5 385.8L629.3 388.8L632.1 257.8L634.7 330.8L637.5 285.8L640.1 369.8L642.9 392.8L645.5 311.8L648.3 298.8L651.1 335.8L653.7 419.7L656.5 349.3L659.3 379.8L662 321.1L664.7 361L667.5 361.8L670.1 355.5L672.8 285.9L675.6 314.8L678.4 410.3L681.1 363.4L683.9 390L686.6 379.8L689.4 380.6L692 370.4L694.7 397L697.5 385.3L700.2 344.6L702.8 389.2L705.7 339.9L708.5 379L711.1 385.3L714 427.5L716.6 408.7L719.4 391.5L722.1 349.3L724.9 426L727.6 426.7L730.1 453.3L732.7 444.7L735.4 446.3L738.2 436.9L740.9 452.6L743.7 441.6L746.4 468.2L749.2 467.7L757.5 467.7" fill="none" stroke="#1f77b4" stroke-width="2.5" stroke-linejoin="round" stroke-linecap="square"/>
<path d="M133.3 25.6 L757.3 468.2" fill="none" stroke="#ff7f0e" stroke-width="2.3" stroke-linecap="square"/>
<rect x="102.8" y="3.1" width="685.8" height="487.3" fill="none" stroke="#1a1a1a" stroke-width="1.7"/>
<path d="M130.5 490.4 v6.2" stroke="#1a1a1a" stroke-width="1.5"/>
<text x="130.5" y="516" text-anchor="middle" class="tk">0</text>
<path d="M266.8 490.4 v6.2" stroke="#1a1a1a" stroke-width="1.5"/>
<text x="266.8" y="516" text-anchor="middle" class="tk">50</text>
<path d="M403 490.4 v6.2" stroke="#1a1a1a" stroke-width="1.5"/>
<text x="403" y="516" text-anchor="middle" class="tk">100</text>
<path d="M539.2 490.4 v6.2" stroke="#1a1a1a" stroke-width="1.5"/>
<text x="539.2" y="516" text-anchor="middle" class="tk">150</text>
<path d="M675.5 490.4 v6.2" stroke="#1a1a1a" stroke-width="1.5"/>
<text x="675.5" y="516" text-anchor="middle" class="tk">200</text>
<path d="M102.8 468.2 h-6.2" stroke="#1a1a1a" stroke-width="1.5"/>
<text x="89.6" y="475.2" text-anchor="end" class="tk">0%</text>
<path d="M102.8 379.7 h-6.2" stroke="#1a1a1a" stroke-width="1.5"/>
<text x="89.6" y="386.7" text-anchor="end" class="tk">20%</text>
<path d="M102.8 291.2 h-6.2" stroke="#1a1a1a" stroke-width="1.5"/>
<text x="89.6" y="298.2" text-anchor="end" class="tk">40%</text>
<path d="M102.8 202.6 h-6.2" stroke="#1a1a1a" stroke-width="1.5"/>
<text x="89.6" y="209.6" text-anchor="end" class="tk">60%</text>
<path d="M102.8 114.1 h-6.2" stroke="#1a1a1a" stroke-width="1.5"/>
<text x="89.6" y="121.1" text-anchor="end" class="tk">80%</text>
<path d="M102.8 25.6 h-6.2" stroke="#1a1a1a" stroke-width="1.5"/>
<text x="89.6" y="32.6" text-anchor="end" class="tk">100%</text>
<text x="445.7" y="542.6" text-anchor="middle" class="lb">Time(min)</text>
<text transform="translate(31,249.2) rotate(-90)" text-anchor="middle" class="lb">RUL</text>
<rect x="614.5" y="11.5" width="165" height="57" rx="3" ry="3" fill="#fff" fill-opacity="0.8" stroke="#d4d4d4" stroke-width="1.2"/>
<path d="M620 26.5 h37.5" stroke="#1f77b4" stroke-width="2.5"/>
<path d="M620 52.5 h37.5" stroke="#ff7f0e" stroke-width="2.5"/>
<text x="671" y="32.6" class="lg">Predict-RUL</text>
<text x="671" y="58.6" class="lg">True-RUL</text>
<text transform="translate(442,594.9) scale(1,1.075)" text-anchor="middle" class="tt">B2<tspan dy="3.2">_</tspan><tspan dy="-3.2">7</tspan></text>
</g>
</svg>
</body></html>
